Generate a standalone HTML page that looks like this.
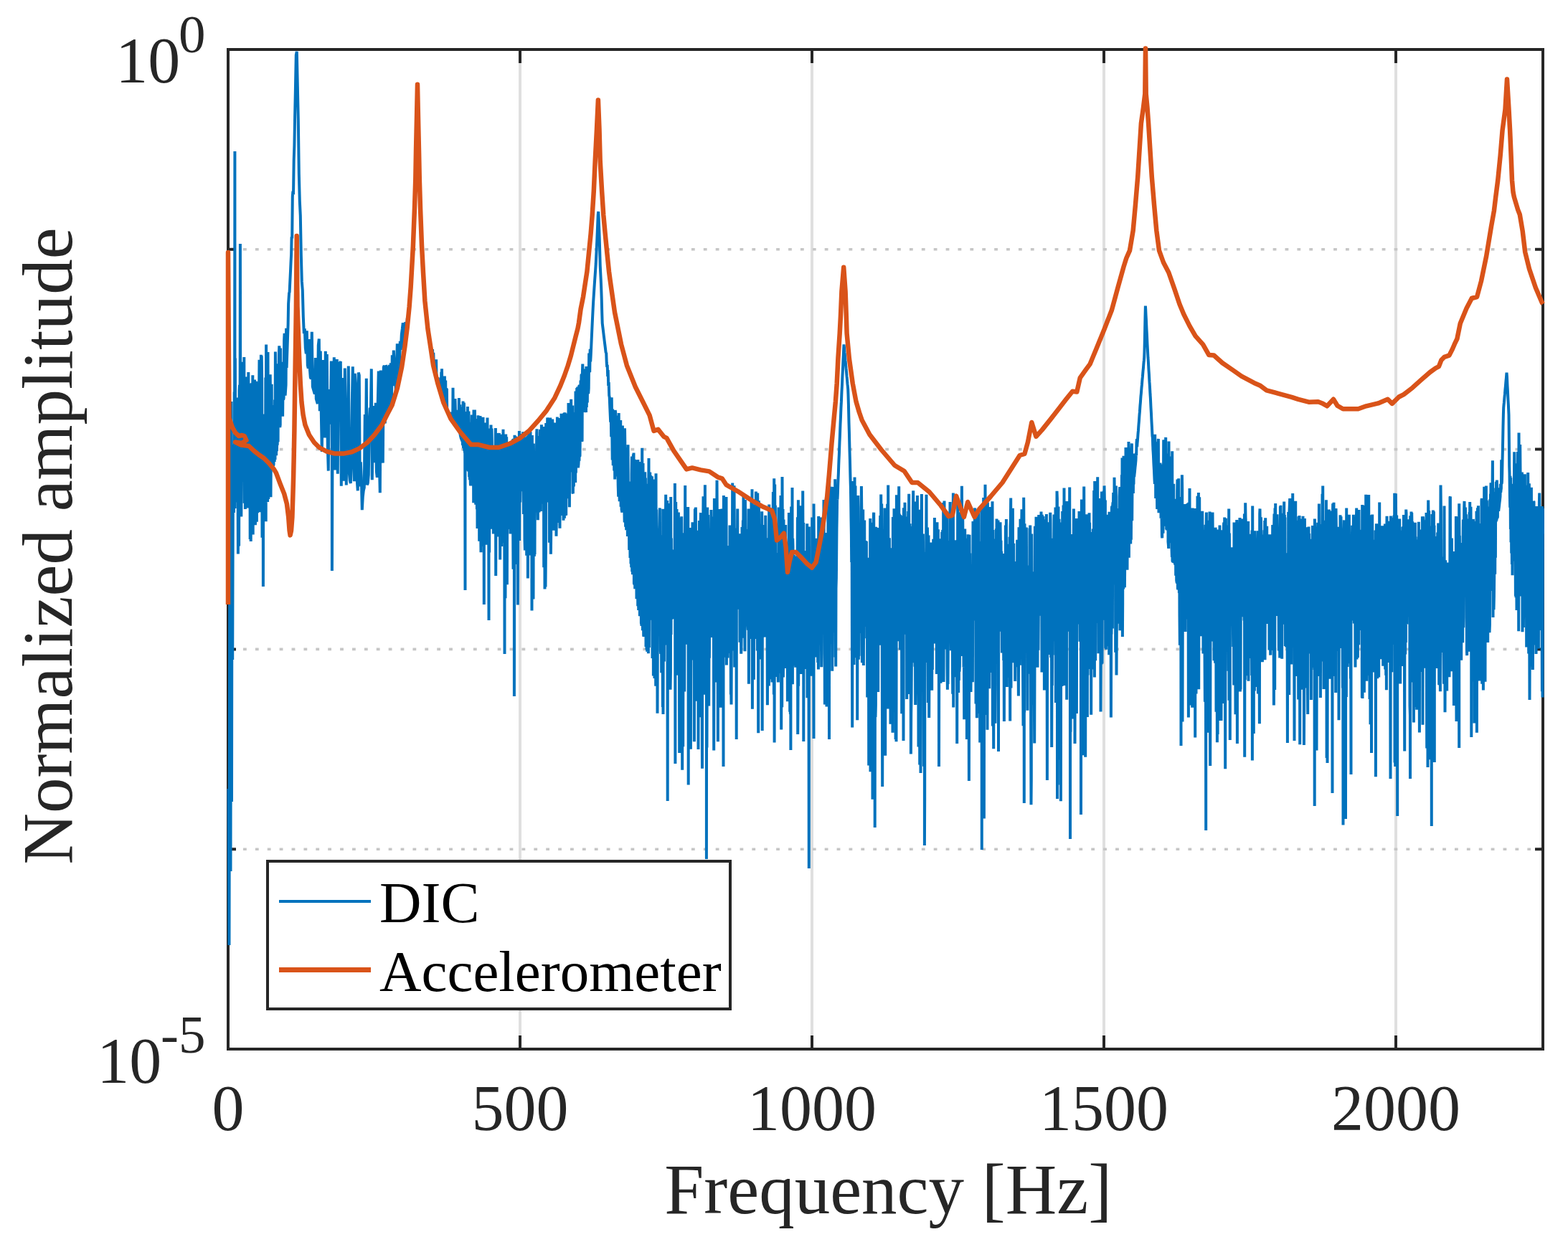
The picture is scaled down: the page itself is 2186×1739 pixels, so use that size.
<!DOCTYPE html>
<html><head><meta charset="utf-8"><title>Normalized amplitude vs Frequency</title>
<style>html,body{margin:0;padding:0;background:#fff;overflow:hidden}svg{display:block}</style></head>
<body>
<svg xmlns="http://www.w3.org/2000/svg" width="2186" height="1739" viewBox="0 0 2186 1739"><rect width="2186" height="1739" fill="#fff"/><line x1="725.0" y1="69" x2="725.0" y2="1463" stroke="#dfdfdf" stroke-width="4"/><line x1="1132.0" y1="69" x2="1132.0" y2="1463" stroke="#dfdfdf" stroke-width="4"/><line x1="1539.0" y1="69" x2="1539.0" y2="1463" stroke="#dfdfdf" stroke-width="4"/><line x1="1946.0" y1="69" x2="1946.0" y2="1463" stroke="#dfdfdf" stroke-width="4"/><line x1="322.1" y1="347.8" x2="2151" y2="347.8" stroke="#c6c6c6" stroke-width="3.6" stroke-dasharray="4.8 12.09"/><line x1="322.1" y1="626.6" x2="2151" y2="626.6" stroke="#c6c6c6" stroke-width="3.6" stroke-dasharray="4.8 12.09"/><line x1="322.1" y1="905.4" x2="2151" y2="905.4" stroke="#c6c6c6" stroke-width="3.6" stroke-dasharray="4.8 12.09"/><line x1="322.1" y1="1184.2" x2="2151" y2="1184.2" stroke="#c6c6c6" stroke-width="3.6" stroke-dasharray="4.8 12.09"/><path d="M725.0 1463V1444M725.0 69V88M1132.0 1463V1444M1132.0 69V88M1539.0 1463V1444M1539.0 69V88M1946.0 1463V1444M1946.0 69V88M318 347.8H329M2151 347.8H2140M318 626.6H329M2151 626.6H2140M318 905.4H329M2151 905.4H2140M318 1184.2H329M2151 1184.2H2140" stroke="#262626" stroke-width="4" fill="none"/><rect x="318" y="69" width="1833" height="1394" stroke="#262626" stroke-width="4" fill="none"/><polyline points="318.5,1100.0 319.5,1318.0 320.5,600.0 321.5,1215.0 322.3,560.0 323.0,1118.0 323.6,620.0 324.2,920.0 325.0,640.0 325.5,653.8 325.9,714.9 326.3,692.6 326.7,546.4 327.1,566.5 327.4,211.0 327.5,708.9 327.9,499.4 328.3,700.2 328.7,696.2 329.1,611.6 329.5,567.3 329.9,560.7 330.3,554.4 330.7,605.4 331.1,621.4 331.5,634.6 331.9,772.5 332.3,695.4 332.7,653.0 333.1,761.6 333.5,544.4 333.9,536.8 334.3,650.4 334.7,515.5 334.9,340.0 335.1,513.2 335.5,624.2 335.9,611.1 336.3,720.6 336.7,654.9 337.1,624.0 337.5,619.3 337.9,552.4 338.3,504.8 338.7,541.2 339.1,671.7 339.5,542.3 339.9,585.2 340.3,498.1 340.7,701.7 341.1,536.0 341.5,557.8 341.9,710.1 342.3,622.8 342.7,704.5 343.1,657.7 343.5,685.1 343.9,525.5 344.3,631.2 344.7,622.3 345.1,708.6 345.5,583.0 345.9,646.7 346.3,519.0 346.7,590.1 347.1,572.8 347.5,534.8 347.9,700.1 348.3,588.0 348.7,751.9 349.1,645.0 349.5,649.2 349.7,755.0 349.9,658.1 350.3,668.6 350.7,534.2 351.1,604.8 351.5,550.3 351.9,594.6 352.3,523.2 352.7,745.5 353.1,544.2 353.5,668.0 353.9,566.9 354.3,711.6 354.7,665.6 355.1,529.5 355.5,707.0 355.9,732.2 356.3,720.2 356.7,640.7 357.1,531.8 357.5,540.1 357.9,727.8 358.3,636.2 358.7,537.8 359.1,715.2 359.5,660.9 359.9,641.2 360.3,588.0 360.7,597.6 361.1,550.4 361.5,501.7 361.9,714.2 362.3,613.4 362.7,635.5 363.1,573.2 363.5,692.0 363.9,494.7 364.3,587.2 364.7,496.2 365.1,524.3 365.5,749.7 365.9,666.6 366.3,602.5 366.7,628.7 366.9,818.0 367.1,713.9 367.5,577.6 367.9,646.3 368.3,672.3 368.7,579.2 369.1,625.1 369.5,694.1 369.9,721.1 370.3,526.4 370.7,727.2 371.1,480.5 371.5,690.2 371.9,700.1 372.3,521.8 372.7,592.7 373.1,700.1 373.5,490.9 373.9,652.6 374.3,695.9 374.7,618.1 375.1,680.4 375.5,532.6 375.9,527.2 376.3,571.2 376.7,522.3 377.1,563.1 377.5,693.3 377.9,625.6 378.3,556.8 378.7,535.7 379.1,656.2 379.5,581.6 379.9,653.5 380.3,598.0 380.7,597.7 381.1,649.4 381.5,648.0 381.9,608.4 382.3,564.9 382.7,643.9 383.1,557.5 383.5,641.1 383.9,490.5 384.3,557.4 384.7,579.0 385.1,635.2 385.5,507.3 385.9,629.1 386.3,612.5 386.7,620.7 387.1,597.4 387.6,616.3 388.0,523.1 388.4,537.7 388.9,494.1 389.3,482.3 389.8,493.6 390.2,596.0 390.7,592.5 391.1,485.6 391.6,573.6 392.1,545.6 392.6,568.0 393.1,578.9 393.6,504.8 394.1,580.8 394.6,530.3 395.1,557.6 395.6,555.1 396.1,474.9 396.6,464.8 397.1,505.4 397.6,551.5 398.1,544.0 398.6,536.5 399.1,457.7 399.6,512.9 400.1,497.9 400.6,482.9 401.1,467.9 401.6,452.9 402.1,423.7 402.6,415.9 403.1,408.7 403.6,407.3 404.1,396.9 404.6,386.5 405.1,376.1 405.6,364.5 406.1,355.0 406.6,330.2 407.2,332.4 407.8,274.2 408.4,266.7 409.0,271.2 409.7,223.2 410.4,202.9 411.1,163.0 411.9,125.0 412.8,76.7 413.8,71.9 414.8,119.3 415.8,166.8 416.8,242.2 417.8,280.1 418.8,300.8 419.8,355.3 420.8,392.4 421.8,404.8 422.8,441.9 423.8,465.2 424.8,458.2 425.8,484.9 426.8,493.2 427.8,461.4 428.8,509.4 429.8,513.7 430.8,473.0 431.8,513.3 432.8,526.4 433.8,528.3 434.8,462.7 435.8,539.1 436.8,542.7 437.8,546.1 438.8,549.5 439.8,499.0 440.8,556.3 441.8,559.7 442.8,563.1 443.8,481.4 444.8,472.6 445.8,573.3 446.8,489.4 447.8,574.6 448.8,629.9 449.8,532.8 450.8,502.1 451.8,555.9 452.8,610.4 453.8,489.7 454.8,541.1 455.8,494.0 456.8,622.4 457.8,656.6 458.8,545.0 459.8,544.3 460.8,591.7 461.8,503.4 462.8,512.1 462.9,796.0 463.8,535.7 464.8,571.9 465.8,498.3 466.8,655.5 467.8,608.0 468.8,531.2 469.8,501.1 470.8,660.7 471.8,505.9 472.8,506.5 473.8,506.8 474.8,503.9 475.8,677.8 476.8,527.1 477.8,537.9 478.8,670.6 479.8,626.0 480.8,513.6 481.8,575.6 482.8,676.4 483.8,560.1 484.8,653.8 485.8,510.5 486.8,659.3 487.8,670.1 488.8,673.9 489.8,646.1 490.8,562.3 491.8,511.2 492.8,604.4 493.8,671.2 494.8,520.8 495.8,535.7 496.8,611.2 497.8,670.7 498.8,684.3 499.8,519.5 500.8,523.4 501.8,678.5 502.8,644.3 503.8,666.1 504.8,711.2 505.8,692.7 506.8,683.9 507.8,680.0 508.8,578.0 509.8,646.9 510.8,527.7 511.8,676.3 512.8,673.8 513.8,662.1 514.8,587.1 515.8,568.5 516.8,578.3 517.8,514.4 518.8,669.3 519.8,605.9 520.8,566.1 521.8,604.5 522.8,645.1 523.8,561.8 524.8,656.9 525.8,665.9 526.8,560.3 527.8,517.6 528.8,642.4 529.8,687.2 530.8,516.4 531.8,624.3 532.8,637.5 533.8,645.4 534.8,512.1 535.8,509.7 536.8,590.6 537.8,509.5 538.8,511.5 539.8,576.5 540.8,551.5 541.8,574.1 542.8,508.9 543.8,570.3 544.8,506.3 545.8,566.5 546.8,495.3 547.8,538.1 548.8,488.6 549.8,509.7 550.8,507.1 551.8,548.1 552.8,521.1 553.8,479.4 554.8,537.2 555.8,532.5 556.8,527.7 557.8,475.8 558.8,487.9 559.8,466.5 560.8,458.8 561.8,450.2 562.8,484.7 563.8,450.8 564.8,450.9 565.8,472.0 566.8,464.0 567.8,443.6 568.8,446.0 569.8,436.0 570.8,425.4 571.8,412.1 572.8,398.3 573.8,380.4 574.8,362.5 575.8,344.6 576.8,320.2 577.8,295.1 578.8,265.5 579.8,221.7 580.8,174.2 581.8,120.2 582.8,155.8 583.8,200.8 584.8,249.8 585.8,283.2 586.8,311.0 587.8,337.3 588.8,357.5 589.8,376.2 590.8,393.3 591.8,409.9 592.8,423.8 593.8,433.4 594.8,443.1 595.8,452.7 596.7,460.8 597.6,466.7 598.5,472.3 599.3,477.6 600.1,482.8 600.9,487.9 601.6,492.9 602.3,493.5 603.0,487.1 603.7,506.8 604.3,491.9 604.9,513.0 605.5,515.3 606.0,514.1 606.6,519.6 607.1,501.7 607.6,523.7 608.1,501.2 608.5,527.5 609.0,529.3 609.4,531.1 609.9,526.2 610.3,534.5 610.7,536.1 611.1,537.4 611.5,538.7 611.9,540.1 612.3,541.4 612.7,542.7 613.1,544.0 613.4,545.2 613.8,546.5 614.2,526.5 614.6,549.0 614.9,550.2 615.3,518.8 615.7,552.7 616.0,514.2 616.4,555.1 616.8,556.3 617.1,557.5 617.5,558.7 617.8,559.8 618.2,561.0 618.5,526.7 618.9,562.6 619.2,563.3 619.5,564.1 619.9,524.4 620.2,565.6 620.5,566.3 620.9,567.1 621.2,530.4 621.5,568.6 621.9,542.8 622.2,541.1 622.5,570.8 622.9,542.1 623.2,572.3 623.5,573.1 623.9,573.8 624.2,574.6 624.5,575.3 624.9,576.1 625.2,576.8 625.5,577.5 625.9,578.3 626.2,579.0 626.5,579.8 626.9,580.5 627.2,581.3 627.5,582.0 627.9,581.0 628.2,583.5 628.5,584.2 628.9,584.7 629.2,574.5 629.5,585.6 629.9,583.6 630.2,586.5 630.5,587.0 630.9,587.5 631.2,587.9 631.5,540.7 631.9,587.9 632.2,589.3 632.5,589.7 632.9,590.2 633.2,590.7 633.5,591.1 633.9,591.6 634.2,592.0 634.5,556.1 634.9,572.7 635.2,573.2 635.5,593.9 635.9,594.3 636.2,586.0 636.5,595.2 636.9,590.4 637.2,596.2 637.5,596.6 637.9,597.1 638.2,593.0 638.5,571.8 638.9,598.4 639.2,598.9 639.5,599.4 639.9,555.0 640.2,600.8 640.5,583.0 640.9,603.5 641.2,564.2 641.5,605.1 641.9,607.5 642.2,608.8 642.5,610.1 642.9,611.5 643.2,612.8 643.5,598.1 643.9,615.5 644.2,567.5 644.5,588.0 644.9,619.5 645.2,620.8 645.5,559.6 645.9,623.5 646.2,624.8 646.5,615.7 646.9,561.5 647.2,628.8 647.5,577.2 647.9,631.5 648.2,603.9 648.5,823.0 648.5,634.1 648.9,581.0 649.2,624.9 649.5,634.9 649.9,639.5 650.2,573.9 650.5,643.2 650.9,589.3 651.2,593.1 651.5,583.5 651.9,567.1 652.2,617.6 652.5,655.2 652.9,657.2 653.2,576.6 653.5,573.6 653.9,599.0 654.2,665.2 654.5,633.3 654.9,669.2 655.2,668.1 655.5,661.3 655.9,675.2 656.2,677.2 656.5,606.4 656.9,589.2 657.2,626.2 657.5,637.0 657.9,578.5 658.2,628.1 658.5,668.8 658.9,579.1 659.2,579.6 659.5,582.0 659.9,597.8 660.2,701.3 660.5,571.6 660.9,583.7 661.2,583.0 661.5,638.1 661.9,571.6 662.2,635.4 662.5,584.0 662.9,597.5 663.2,703.8 663.5,586.0 663.9,669.1 664.2,626.5 664.5,629.0 664.9,710.2 665.2,586.1 665.5,736.9 665.9,728.4 666.2,681.5 666.5,579.3 666.9,681.0 667.2,668.5 667.5,703.8 667.9,591.2 668.2,754.7 668.5,729.6 668.9,586.2 669.2,612.1 669.5,579.9 669.9,718.6 670.2,742.7 670.5,770.2 670.9,673.9 671.2,685.2 671.5,688.0 671.9,666.2 672.2,761.7 672.5,674.5 672.9,619.3 673.2,655.7 673.5,581.7 673.9,699.2 674.2,693.4 674.5,638.1 674.8,843.0 674.9,729.1 675.2,706.8 675.5,621.7 675.9,589.4 676.2,593.6 676.5,596.8 676.9,616.2 677.2,645.7 677.5,759.8 677.9,611.8 678.2,748.2 678.5,694.1 678.9,734.1 679.2,638.1 679.5,582.4 679.9,718.0 680.2,606.7 680.5,597.6 680.9,721.9 681.2,696.9 681.5,865.0 681.5,602.1 681.9,612.4 682.2,770.6 682.5,613.0 682.9,701.2 683.2,598.8 683.5,727.9 683.9,598.5 684.2,664.3 684.5,592.6 684.9,671.6 685.2,737.7 685.5,597.6 685.9,616.5 686.2,716.1 686.5,684.4 686.9,625.0 687.2,689.0 687.5,654.1 687.9,744.4 688.2,621.9 688.5,715.7 688.9,691.4 689.2,712.6 689.5,640.0 689.9,709.9 690.2,704.8 690.5,642.5 690.9,596.9 691.2,803.1 691.5,708.6 691.9,609.1 692.2,712.5 692.5,622.0 692.9,660.5 693.2,748.4 693.5,656.7 693.9,624.8 694.2,628.5 694.5,604.1 694.9,611.9 695.2,622.3 695.5,610.0 695.9,604.0 696.2,661.5 696.5,612.5 696.9,716.0 697.2,780.5 697.5,623.7 697.9,683.1 698.2,670.3 698.5,605.8 698.9,609.0 699.2,762.0 699.5,664.2 699.9,735.2 700.2,605.9 700.5,688.2 700.9,755.8 701.2,756.6 701.5,598.7 701.9,674.2 702.2,644.5 702.5,720.9 702.9,607.4 703.2,624.6 703.5,912.0 703.5,739.4 703.9,664.6 704.2,661.6 704.5,834.3 704.9,636.0 705.2,605.5 705.5,650.2 705.9,613.6 706.2,609.2 706.5,684.4 706.9,815.2 707.2,686.8 707.5,699.8 707.9,637.9 708.2,685.4 708.5,720.1 708.9,689.0 709.2,738.0 709.5,681.8 709.9,617.8 710.2,688.1 710.5,670.7 710.9,616.5 711.2,695.2 711.5,744.4 711.9,615.2 712.2,681.3 712.5,716.9 712.9,654.3 713.2,629.1 713.5,648.4 713.9,680.3 714.2,707.6 714.5,683.5 714.9,612.5 715.2,742.9 715.5,793.8 715.9,611.8 716.2,624.4 716.5,616.2 716.9,753.2 716.9,971.0 717.2,782.7 717.5,606.7 717.9,639.7 718.2,616.8 718.5,665.5 718.9,787.1 719.2,608.7 719.5,615.2 719.9,668.5 720.2,675.4 720.5,717.4 720.9,658.9 721.2,613.1 721.5,642.7 721.9,843.4 722.2,718.0 722.5,611.0 722.9,735.0 723.2,634.2 723.5,726.2 723.9,600.9 724.2,753.9 724.5,613.3 724.9,661.3 725.2,700.4 725.5,671.0 725.9,613.1 726.2,611.6 726.5,628.2 726.9,605.0 727.2,615.6 727.5,610.6 727.9,662.2 728.2,641.5 728.5,685.3 728.9,626.9 729.2,602.3 729.5,636.3 729.9,717.1 730.2,621.8 730.5,650.0 730.9,716.9 731.2,650.2 731.5,753.3 731.9,767.5 732.2,631.4 732.5,712.9 732.9,620.2 733.2,609.3 733.5,655.4 733.9,687.0 734.2,774.8 734.5,609.2 734.9,708.0 735.2,662.2 735.5,607.9 735.9,806.6 736.2,704.5 736.5,607.3 736.9,760.3 737.2,605.3 737.5,604.5 737.9,633.4 738.2,774.5 738.5,599.1 738.9,765.4 739.2,687.5 739.5,602.1 739.9,678.9 740.2,657.4 740.5,677.9 740.9,711.6 741.2,700.1 741.5,851.4 741.9,606.9 742.2,729.7 742.5,647.3 742.9,721.8 743.2,752.3 743.5,835.5 743.9,618.4 744.2,655.0 744.5,774.6 744.9,775.8 745.2,638.9 745.5,773.1 745.9,645.2 746.2,638.9 746.5,714.4 746.9,657.8 747.2,653.2 747.5,640.7 747.9,649.9 748.2,603.5 748.5,598.3 748.9,713.5 749.2,675.7 749.5,697.0 749.9,725.3 750.2,608.6 750.5,609.2 750.9,617.9 751.2,622.9 751.5,714.4 751.9,636.8 752.2,626.4 752.5,689.2 752.9,603.7 753.2,598.9 753.5,701.2 753.9,713.1 754.2,620.2 754.5,688.7 754.9,592.3 755.2,641.7 755.5,676.7 755.9,610.8 756.2,629.9 756.5,682.9 756.9,678.8 757.2,600.0 757.5,702.4 757.9,594.9 758.2,791.2 758.5,601.9 758.9,609.6 759.2,601.5 759.5,821.5 759.9,615.9 760.2,681.1 760.5,818.5 760.9,769.5 761.2,590.0 761.5,663.5 761.9,679.9 762.2,700.6 762.5,625.0 762.9,623.2 763.2,582.4 763.5,588.0 763.9,668.8 764.2,591.5 764.5,599.2 764.9,623.5 765.2,590.7 765.5,586.6 765.9,756.8 766.2,644.1 766.5,598.7 766.9,700.1 767.2,582.5 767.5,604.4 767.9,772.7 768.2,742.5 768.5,684.1 768.9,591.2 769.2,618.8 769.5,585.1 769.9,598.5 770.2,584.6 770.5,593.0 770.9,682.1 771.2,591.0 771.5,594.5 771.9,739.7 772.2,621.2 772.5,620.6 772.9,589.5 773.2,713.4 773.5,689.2 773.9,663.0 774.2,677.0 774.5,590.0 774.9,605.2 775.2,669.6 775.5,747.8 775.9,715.2 776.2,680.4 776.5,656.0 776.9,581.5 777.2,728.9 777.5,586.8 777.9,591.1 778.2,689.5 778.5,711.8 778.9,706.9 779.2,641.5 779.5,593.4 779.9,582.9 780.2,717.1 780.5,736.8 780.9,600.0 781.2,718.6 781.5,630.7 781.9,612.8 782.2,650.1 782.5,576.8 782.9,636.9 783.2,591.9 783.5,688.2 783.9,646.8 784.2,713.4 784.5,718.8 784.9,609.0 785.2,601.4 785.5,725.7 785.9,643.8 786.2,580.6 786.5,575.9 786.9,722.8 787.2,656.2 787.5,575.2 787.9,641.9 788.2,639.9 788.5,626.0 788.9,718.4 789.2,717.6 789.5,577.0 789.9,578.1 790.2,617.8 790.5,695.2 790.9,658.7 791.2,678.8 791.5,648.3 791.9,578.0 792.2,689.9 792.5,562.1 792.9,669.9 793.2,574.9 793.5,624.6 793.9,707.3 794.2,636.7 794.5,563.8 794.9,614.2 795.2,658.6 795.5,562.1 795.9,578.2 796.2,556.7 796.5,633.0 796.9,601.6 797.2,624.8 797.5,583.9 797.9,653.5 798.2,565.4 798.5,687.4 798.9,688.2 799.2,619.4 799.5,613.5 799.9,678.6 800.2,577.8 800.5,670.9 800.9,574.9 801.2,656.3 801.5,581.3 801.9,630.9 802.2,673.1 802.5,545.5 802.9,659.4 803.2,613.5 803.5,582.0 803.9,575.4 804.2,541.0 804.5,556.1 804.9,620.9 805.2,539.4 805.5,626.1 805.9,652.2 806.2,650.3 806.5,647.2 806.9,639.0 807.2,537.5 807.5,642.7 807.9,536.5 808.2,636.6 808.5,635.5 808.9,602.2 809.2,583.7 809.5,530.6 809.9,580.5 810.2,541.1 810.5,523.0 810.9,522.1 811.2,615.4 811.6,614.5 811.9,519.9 812.3,507.6 812.6,528.7 813.0,516.2 813.4,518.2 813.7,571.8 814.1,546.7 814.5,546.1 814.9,514.5 815.3,575.1 815.7,522.3 816.1,535.4 816.5,542.1 817.0,575.1 817.4,511.1 817.8,567.9 818.3,515.9 818.8,561.5 819.2,522.4 819.7,533.0 820.2,549.0 820.7,541.6 821.2,492.5 821.7,495.5 822.2,519.3 822.7,486.9 823.2,504.5 823.7,495.5 824.2,484.4 824.7,473.2 825.2,462.0 825.7,450.9 826.2,440.4 826.7,430.2 827.2,420.5 827.7,412.8 828.2,405.2 828.7,397.5 829.2,390.2 829.7,383.0 830.2,375.8 830.7,368.0 831.2,357.7 831.7,347.4 832.2,337.1 832.7,325.0 833.2,312.5 833.7,300.0 834.2,295.0 834.7,304.9 835.2,318.6 835.7,332.2 836.2,350.5 836.7,370.0 837.2,380.0 837.7,390.0 838.2,401.8 838.7,416.2 839.2,435.5 839.7,450.7 840.2,454.9 840.7,459.1 841.2,463.3 841.7,467.5 842.2,471.6 842.7,475.7 843.2,479.8 843.7,483.8 844.2,487.9 844.7,492.0 845.2,491.8 845.7,505.2 846.2,511.8 846.7,508.7 847.2,525.0 847.7,516.0 848.2,538.2 848.7,533.0 849.2,551.4 849.7,553.9 850.2,566.4 850.7,577.6 851.2,588.7 851.7,575.7 852.2,609.3 852.7,554.3 853.2,593.8 853.7,641.5 854.2,570.6 854.7,649.2 855.2,635.7 855.7,588.8 856.2,656.4 856.7,589.9 857.2,668.5 857.7,572.1 858.2,575.5 858.7,664.4 859.2,619.4 859.7,579.5 860.2,632.6 860.7,598.3 861.2,641.7 861.7,676.7 862.2,692.8 862.7,575.9 863.2,656.1 863.7,699.3 864.2,635.6 864.7,696.0 865.2,586.0 865.6,706.8 866.1,670.4 866.6,710.7 867.0,712.6 867.4,714.5 867.9,593.5 868.3,711.1 868.7,611.5 869.1,624.9 869.5,639.1 869.9,696.3 870.3,706.4 870.7,728.4 871.0,597.2 871.4,624.4 871.8,659.2 872.1,734.8 872.5,703.9 872.8,697.8 873.2,739.3 873.5,733.6 873.9,654.8 874.2,624.0 874.5,695.0 874.9,748.0 875.2,727.4 875.5,620.3 875.9,692.7 876.2,680.4 876.5,727.5 876.9,729.5 877.2,767.1 877.5,671.6 877.9,689.0 878.2,739.6 878.5,778.0 878.9,764.4 879.2,707.1 879.5,786.2 879.9,712.2 880.2,791.2 880.5,661.9 880.9,636.5 881.2,797.2 881.5,667.0 881.9,801.2 882.2,750.1 882.5,724.4 882.9,633.5 883.2,799.8 883.5,631.6 883.9,813.2 884.2,815.2 884.5,672.4 884.9,640.7 885.2,821.2 885.5,723.5 885.9,641.5 886.2,730.4 886.5,659.7 886.9,706.2 887.2,773.6 887.5,835.2 887.9,821.2 888.2,648.5 888.5,730.1 888.9,735.2 889.2,845.2 889.5,641.1 889.9,743.4 890.2,851.0 890.5,711.4 890.9,670.6 891.2,760.5 891.5,689.5 891.9,859.3 892.2,644.0 892.5,658.9 892.9,644.7 893.2,814.8 893.5,684.6 893.9,869.3 894.2,869.7 894.5,872.7 894.9,675.0 895.2,624.7 895.5,718.4 895.9,879.3 896.2,841.5 896.5,646.0 896.9,824.0 897.2,886.0 897.5,887.7 897.9,831.4 898.2,872.7 898.5,868.4 898.9,719.5 899.2,658.2 899.5,840.2 899.9,666.6 900.2,732.3 900.5,902.1 900.9,790.6 901.2,779.5 901.5,906.1 901.9,705.9 902.2,908.8 902.5,905.2 902.9,734.8 903.2,724.2 903.5,674.7 903.9,911.3 904.2,687.6 904.5,639.1 904.9,902.9 905.2,816.5 905.5,840.8 905.9,861.1 906.2,658.6 906.5,673.8 906.9,789.5 907.2,663.1 907.5,792.0 907.9,864.7 908.2,840.6 908.5,828.4 908.9,664.3 909.2,712.2 909.5,917.9 909.9,687.9 910.2,805.2 910.5,668.4 910.9,942.5 911.2,701.5 911.5,770.0 911.9,812.0 912.2,864.4 912.5,946.1 912.9,870.5 913.2,754.2 913.5,681.8 913.9,863.0 914.2,956.8 914.5,660.2 914.9,884.7 915.2,710.5 915.5,791.4 915.9,810.0 916.2,837.2 916.5,994.8 916.9,858.7 917.2,772.5 917.5,866.9 917.9,794.6 918.2,779.2 918.5,765.6 918.9,802.8 919.2,741.7 919.5,730.7 919.9,708.4 920.2,788.2 920.5,746.3 920.9,907.8 921.2,911.9 921.5,761.5 921.9,840.0 922.2,938.2 922.5,766.6 922.9,822.0 923.2,790.8 923.5,849.1 923.9,985.9 924.2,709.8 924.5,995.9 924.9,853.7 925.2,893.7 925.5,845.3 925.9,922.5 926.2,760.0 926.5,865.7 926.9,743.4 927.2,810.9 927.5,858.5 927.9,727.8 928.2,689.8 928.5,892.3 928.9,899.5 929.2,854.4 929.5,761.3 929.9,852.5 930.2,698.1 930.5,853.8 930.7,1117.0 930.9,830.7 931.2,841.8 931.5,796.4 931.9,737.4 932.2,870.9 932.5,801.5 932.9,876.1 933.2,775.4 933.5,701.9 933.9,822.8 934.2,844.0 934.5,961.7 934.9,937.0 935.2,693.0 935.5,885.1 935.9,750.6 936.2,863.8 936.5,781.4 936.9,766.6 937.2,809.8 937.5,820.8 937.9,863.3 938.2,848.7 938.5,859.2 938.9,783.0 939.2,859.1 939.5,773.1 939.9,841.1 940.2,802.8 940.5,829.7 940.9,674.0 941.2,813.2 941.4,1065.0 941.5,740.9 941.9,784.0 942.2,699.9 942.5,854.4 942.9,941.8 943.2,776.1 943.5,710.1 943.9,845.1 944.2,717.2 944.5,940.4 944.9,715.8 945.2,778.4 945.5,812.9 945.9,714.4 946.2,767.4 946.5,756.1 946.9,869.8 947.2,1050.0 947.5,779.0 947.9,894.8 948.2,721.9 948.5,835.5 948.9,797.4 949.2,760.0 949.5,907.9 949.9,878.9 950.2,720.2 950.5,761.3 950.9,907.1 951.2,1073.7 951.5,844.2 951.9,928.6 952.2,1041.3 952.5,877.8 952.9,853.0 953.2,743.3 953.5,782.0 953.9,847.7 954.2,964.4 954.5,764.4 954.9,788.7 955.2,677.1 955.5,867.0 955.9,801.4 956.2,898.7 956.5,747.1 956.9,857.6 957.2,861.1 957.5,807.1 957.9,735.7 958.2,791.2 958.5,880.0 958.9,736.0 959.2,706.9 959.5,807.0 959.7,1094.5 959.9,747.9 960.2,900.3 960.5,907.0 960.9,976.5 961.2,916.0 961.5,855.2 961.9,735.9 962.2,909.4 962.5,876.3 962.9,881.2 962.9,1044.8 963.2,868.5 963.5,912.3 963.9,765.0 964.2,862.2 964.5,822.0 964.9,775.5 965.2,772.7 965.5,728.3 965.9,815.5 966.2,783.7 966.5,797.4 966.9,920.6 967.2,864.7 967.5,864.4 967.9,1034.3 968.2,745.0 968.5,819.9 968.9,709.5 969.2,790.3 969.5,977.8 969.9,707.6 970.2,884.4 970.5,925.3 970.9,820.4 971.2,899.3 971.5,803.0 971.9,780.4 972.2,819.6 972.5,739.8 972.9,768.8 973.2,768.3 973.5,1045.1 973.9,776.0 974.2,748.8 974.5,968.6 974.9,726.0 975.2,1000.3 975.5,919.9 975.9,856.1 976.2,800.0 976.5,741.2 976.9,716.2 977.2,715.5 977.5,780.1 977.9,794.9 978.2,957.1 978.5,827.9 978.9,1049.5 979.0,1071.7 979.2,875.0 979.5,729.1 979.9,832.4 980.2,732.5 980.5,692.3 980.9,968.8 981.2,777.7 981.5,740.3 981.9,716.2 982.2,857.6 982.5,809.1 982.9,676.3 983.2,873.6 983.5,757.4 983.9,892.4 984.2,816.2 984.5,828.2 984.9,808.4 984.9,1198.0 985.2,863.7 985.5,1042.4 985.9,898.5 986.2,707.4 986.5,818.0 986.9,752.3 987.2,717.9 987.5,742.8 987.9,755.9 988.2,984.4 988.5,881.2 988.9,917.7 989.2,869.6 989.5,773.2 989.9,792.2 990.2,804.7 990.5,767.7 990.9,799.9 991.2,888.9 991.5,711.1 991.9,763.7 992.2,814.5 992.5,864.0 992.9,856.4 993.2,876.2 993.5,720.6 993.9,740.6 994.2,772.1 994.5,765.4 994.9,883.9 995.2,1046.6 995.5,865.8 995.9,694.9 996.2,769.4 996.5,899.6 996.9,951.5 997.2,843.7 997.5,782.2 997.9,783.8 998.2,853.4 998.5,920.1 998.9,780.2 999.2,743.2 999.5,669.8 999.9,730.8 1000.2,915.6 1000.5,851.1 1000.9,1034.3 1001.2,710.9 1001.5,786.5 1001.9,896.9 1002.2,860.3 1002.5,710.1 1002.9,795.4 1003.2,854.4 1003.5,866.9 1003.9,807.9 1004.2,742.7 1004.5,986.7 1004.9,811.6 1005.2,874.3 1005.5,828.7 1005.9,714.5 1006.2,754.2 1006.5,709.4 1006.9,743.3 1007.2,745.5 1007.5,798.7 1007.9,775.4 1008.2,785.6 1008.5,1069.0 1008.5,903.5 1008.9,691.1 1009.2,721.3 1009.5,900.5 1009.9,828.5 1010.2,804.7 1010.5,761.8 1010.9,830.6 1011.2,750.4 1011.5,916.6 1011.9,905.5 1012.2,775.5 1012.5,693.0 1012.9,927.6 1013.2,769.7 1013.5,859.2 1013.9,916.3 1014.2,897.2 1014.5,917.5 1014.9,817.3 1015.2,911.1 1015.5,810.3 1015.9,761.0 1016.2,815.2 1016.5,778.8 1016.9,887.2 1017.2,907.5 1017.5,732.5 1017.9,737.7 1018.2,790.9 1018.5,810.8 1018.9,968.4 1019.2,955.4 1019.5,982.5 1019.9,877.4 1020.2,864.3 1020.5,762.6 1020.9,788.2 1021.2,673.4 1021.5,907.5 1021.9,764.0 1022.2,715.4 1022.5,773.9 1022.9,775.7 1023.2,876.0 1023.5,677.3 1023.9,752.4 1024.2,930.5 1024.5,914.1 1024.9,852.2 1025.2,834.6 1025.5,750.4 1025.9,920.2 1026.2,885.2 1026.5,823.1 1026.7,1031.0 1026.9,736.6 1027.2,748.7 1027.5,789.5 1027.9,777.4 1028.2,709.5 1028.5,796.3 1028.9,806.9 1029.2,766.3 1029.5,790.7 1029.9,777.6 1030.2,788.8 1030.5,849.6 1030.9,819.0 1031.2,744.3 1031.5,895.7 1031.9,823.0 1032.2,809.2 1032.5,873.3 1032.9,883.0 1033.2,911.8 1033.5,900.4 1033.9,862.1 1034.2,875.2 1034.5,735.0 1034.9,869.7 1035.2,757.7 1035.5,758.5 1035.9,725.4 1036.2,793.5 1036.5,689.9 1036.9,859.0 1037.2,882.0 1037.5,889.6 1037.9,727.6 1038.2,855.0 1038.5,908.3 1038.9,696.9 1039.2,742.7 1039.5,760.8 1039.9,809.8 1040.2,737.9 1040.5,829.2 1040.9,779.9 1041.2,858.5 1041.5,827.2 1041.9,866.4 1042.2,755.2 1042.5,871.6 1042.9,878.6 1043.2,875.4 1043.5,709.6 1043.9,953.8 1044.2,838.7 1044.5,761.6 1044.9,802.5 1045.2,823.6 1045.5,823.7 1045.9,755.3 1046.2,759.6 1046.5,784.6 1046.9,891.1 1047.2,803.2 1047.5,696.9 1047.9,807.0 1048.2,743.8 1048.5,682.2 1048.9,988.8 1049.2,766.7 1049.5,828.5 1049.9,782.9 1050.2,703.2 1050.5,930.3 1050.9,947.7 1051.2,740.0 1051.5,797.9 1051.9,786.6 1052.2,735.5 1052.5,859.4 1052.9,890.8 1053.2,884.1 1053.5,862.7 1053.9,685.4 1054.2,749.9 1054.5,821.9 1054.9,869.5 1055.2,789.4 1055.5,805.2 1055.9,907.6 1056.2,687.6 1056.5,759.4 1056.9,764.8 1057.2,1022.3 1057.5,749.0 1057.9,698.3 1058.2,796.6 1058.5,855.4 1058.9,731.2 1059.2,906.9 1059.5,741.3 1059.9,868.9 1060.2,733.0 1060.5,919.6 1060.9,742.3 1061.2,875.5 1061.5,906.2 1061.9,755.4 1062.2,713.3 1062.5,838.7 1062.7,1019.0 1062.9,816.7 1063.2,811.7 1063.5,888.7 1063.9,807.5 1064.2,816.0 1064.5,813.5 1064.9,805.2 1065.2,792.9 1065.5,732.0 1065.9,765.1 1066.2,757.4 1066.5,753.1 1066.9,888.6 1067.2,718.7 1067.5,742.4 1067.9,822.8 1068.2,769.1 1068.5,750.9 1068.9,784.3 1069.2,816.5 1069.5,859.7 1069.9,983.2 1070.2,909.3 1070.5,798.3 1070.9,803.6 1071.2,794.6 1071.5,750.2 1071.9,956.5 1072.2,703.6 1072.5,741.7 1072.9,856.0 1073.2,837.8 1073.5,760.0 1073.9,947.2 1074.2,792.6 1074.5,839.3 1074.9,710.0 1075.2,922.8 1075.5,713.6 1075.9,788.5 1076.2,920.0 1076.5,951.4 1076.9,929.8 1077.2,900.9 1077.5,748.2 1077.9,685.9 1078.2,802.8 1078.5,700.9 1078.9,968.4 1079.2,667.2 1079.5,771.0 1079.6,1035.5 1079.9,740.4 1080.2,675.4 1080.5,814.5 1080.9,704.7 1081.2,928.1 1081.5,861.8 1081.9,782.0 1082.2,905.5 1082.5,891.5 1082.9,771.0 1083.2,907.3 1083.5,944.1 1083.9,844.7 1084.2,777.2 1084.5,928.7 1084.9,951.5 1085.2,776.0 1085.5,707.6 1085.9,913.9 1086.2,856.0 1086.5,746.8 1086.9,831.3 1087.2,766.0 1087.5,939.1 1087.9,774.5 1088.2,737.8 1088.5,691.0 1088.9,774.5 1089.2,1017.6 1089.5,743.0 1089.9,803.6 1090.2,986.3 1090.5,664.9 1090.9,762.3 1091.2,899.5 1091.5,710.1 1091.9,944.6 1092.2,903.8 1092.5,724.5 1092.9,837.5 1093.2,828.1 1093.5,863.2 1093.9,765.0 1094.2,784.6 1094.5,748.1 1094.9,761.1 1095.2,732.1 1095.5,931.9 1095.9,922.6 1096.2,778.3 1096.5,863.0 1096.9,811.4 1097.2,758.0 1097.5,775.5 1097.9,978.3 1098.2,773.4 1098.5,833.8 1098.9,954.8 1099.2,762.1 1099.5,895.8 1099.9,715.1 1100.2,873.2 1100.5,895.1 1100.9,905.1 1101.2,992.7 1101.5,867.5 1101.9,995.9 1102.2,757.0 1102.4,1046.0 1102.5,819.4 1102.9,741.1 1103.2,706.6 1103.5,798.9 1103.9,871.0 1104.2,887.5 1104.5,680.1 1104.9,954.2 1105.2,750.8 1105.5,762.5 1105.9,905.6 1106.2,928.5 1106.5,877.2 1106.9,773.8 1107.2,807.4 1107.5,907.2 1107.9,780.7 1108.2,898.5 1108.5,891.5 1108.9,809.9 1109.2,930.8 1109.5,788.7 1109.9,883.0 1110.2,854.9 1110.5,775.6 1110.9,827.5 1111.2,846.9 1111.5,829.2 1111.9,721.2 1112.2,1024.0 1112.5,980.8 1112.9,697.2 1113.2,956.7 1113.5,829.1 1113.9,726.9 1114.2,906.6 1114.5,804.3 1114.9,877.1 1115.2,909.2 1115.5,832.1 1115.9,705.3 1116.2,908.2 1116.5,872.9 1116.9,940.0 1117.2,763.8 1117.5,897.3 1117.9,922.9 1118.2,786.3 1118.5,800.6 1118.9,781.3 1119.2,684.6 1119.5,755.7 1119.9,781.3 1120.2,728.9 1120.3,1034.0 1120.5,891.6 1120.9,806.0 1121.2,841.7 1121.5,770.5 1121.9,789.7 1122.2,888.3 1122.5,817.5 1122.9,849.2 1123.2,806.0 1123.5,839.6 1123.9,932.9 1124.2,768.0 1124.5,830.5 1124.9,872.1 1125.2,730.3 1125.5,973.2 1125.9,825.9 1126.2,764.0 1126.5,890.1 1126.9,905.8 1127.2,858.5 1127.5,941.7 1127.8,1211.0 1127.9,734.5 1128.2,833.8 1128.5,885.9 1128.9,941.9 1129.2,861.2 1129.5,851.3 1129.9,799.0 1130.2,842.9 1130.5,838.3 1130.9,934.5 1131.2,906.6 1131.5,881.3 1131.9,942.8 1132.2,721.5 1132.5,888.4 1132.9,812.5 1133.2,882.7 1133.5,770.2 1133.9,811.8 1134.2,902.5 1134.5,1030.0 1134.5,702.5 1134.9,766.6 1135.2,814.9 1135.5,909.0 1135.9,759.6 1136.2,899.8 1136.5,752.0 1136.9,766.0 1137.2,828.3 1137.5,853.2 1137.9,915.8 1138.2,915.5 1138.5,750.8 1138.9,875.6 1139.2,847.5 1139.5,784.2 1139.9,883.7 1140.2,924.1 1140.5,807.0 1140.9,933.5 1141.2,719.9 1141.5,728.4 1141.9,879.4 1142.2,761.0 1142.5,832.8 1142.9,809.8 1143.2,722.5 1143.5,876.0 1143.9,872.5 1144.2,721.4 1144.5,746.7 1144.9,889.4 1145.2,930.3 1145.5,910.3 1145.9,808.8 1146.2,773.2 1146.5,793.4 1146.9,724.9 1147.2,806.2 1147.5,735.7 1147.9,721.0 1148.2,774.8 1148.5,697.1 1148.9,798.1 1149.2,858.2 1149.5,846.1 1149.9,982.4 1150.2,914.9 1150.5,840.6 1150.9,920.7 1151.2,788.3 1151.5,886.2 1151.9,743.1 1152.2,809.5 1152.5,985.5 1152.9,828.7 1153.2,802.5 1153.5,881.7 1153.9,746.5 1154.2,894.5 1154.5,671.7 1154.9,723.1 1155.2,709.5 1155.5,727.0 1155.9,941.4 1156.0,1031.0 1156.2,670.9 1156.5,736.8 1156.9,817.4 1157.2,855.1 1157.5,875.9 1157.9,759.1 1158.2,709.6 1158.5,898.3 1158.9,691.2 1159.2,678.8 1159.5,709.7 1159.9,788.9 1160.2,935.8 1160.5,861.0 1160.9,809.6 1161.2,795.9 1161.5,849.4 1161.9,828.1 1162.2,736.8 1162.5,679.0 1162.9,697.7 1163.2,877.3 1163.5,831.6 1163.9,881.9 1164.2,668.2 1164.5,916.4 1164.9,753.1 1165.2,929.5 1165.5,820.4 1165.9,805.8 1166.2,770.0 1166.5,736.6 1166.9,715.3 1167.2,693.5 1167.5,696.7 1167.9,687.3 1168.2,677.5 1168.5,668.7 1168.9,659.3 1169.2,650.0 1169.5,641.7 1169.9,633.3 1170.2,625.0 1170.5,616.7 1170.9,608.3 1171.2,600.0 1171.5,591.7 1171.9,583.3 1172.2,575.5 1172.5,568.1 1172.9,560.7 1173.2,553.3 1173.5,545.9 1173.9,538.5 1174.2,531.1 1174.5,523.7 1174.9,516.3 1175.2,508.9 1175.5,501.5 1175.9,494.1 1176.2,486.7 1176.5,480.4 1176.9,484.0 1177.2,487.7 1177.5,491.4 1177.9,495.1 1178.2,498.7 1178.5,502.4 1178.9,506.1 1179.2,509.8 1179.5,513.4 1179.9,517.1 1180.2,520.8 1180.5,524.4 1180.9,528.1 1181.2,531.8 1181.5,535.5 1181.9,539.1 1182.2,542.8 1182.5,550.2 1182.9,563.2 1183.2,576.1 1183.5,589.1 1183.9,602.1 1184.2,615.0 1184.5,628.0 1184.9,640.9 1185.2,653.9 1185.5,666.9 1185.9,679.8 1186.2,699.0 1186.5,722.4 1186.9,745.7 1187.2,784.1 1187.5,670.9 1187.9,880.7 1188.2,1014.5 1188.5,758.7 1188.9,878.4 1189.2,909.9 1189.5,855.4 1189.9,741.6 1190.2,846.9 1190.5,927.1 1190.9,694.6 1191.2,803.1 1191.5,665.4 1191.9,917.2 1192.2,895.9 1192.5,677.4 1192.9,885.7 1193.2,869.3 1193.5,704.7 1193.9,819.4 1194.2,868.9 1194.5,763.5 1194.9,814.0 1195.2,1004.2 1195.5,853.4 1195.9,814.4 1196.2,691.1 1196.5,708.3 1196.9,919.8 1197.2,885.0 1197.5,914.7 1197.9,838.0 1198.2,837.7 1198.5,825.0 1198.9,883.0 1199.2,769.3 1199.5,816.4 1199.9,809.2 1200.2,862.7 1200.5,739.3 1200.9,678.1 1201.2,704.7 1201.5,730.7 1201.9,924.2 1202.2,878.6 1202.5,887.9 1202.9,803.4 1203.2,710.4 1203.5,809.5 1203.9,928.1 1204.2,821.9 1204.5,855.8 1204.9,784.9 1205.2,725.5 1205.5,854.7 1205.9,815.8 1206.2,777.6 1206.5,753.9 1206.9,874.1 1207.2,770.5 1207.5,841.4 1207.9,754.8 1208.2,890.2 1208.5,786.7 1208.9,815.2 1209.2,972.6 1209.5,881.0 1209.9,886.0 1210.2,777.7 1210.5,925.4 1210.9,790.6 1211.2,1067.4 1211.5,954.0 1211.9,865.5 1212.2,923.0 1212.4,1030.0 1212.5,834.4 1212.9,885.9 1213.2,722.9 1213.5,1076.2 1213.9,910.8 1214.2,728.7 1214.5,753.4 1214.9,843.6 1215.2,895.0 1215.5,730.9 1215.9,1021.3 1216.2,782.1 1216.5,1114.7 1216.9,892.2 1217.2,820.2 1217.5,787.2 1217.9,717.1 1218.2,714.7 1218.5,859.5 1218.9,901.0 1219.2,973.3 1219.5,788.7 1219.7,1154.0 1219.9,998.7 1220.2,770.6 1220.5,1000.0 1220.9,982.6 1221.2,734.8 1221.5,941.8 1221.9,879.6 1222.2,879.2 1222.5,931.7 1222.9,834.7 1223.2,826.7 1223.5,789.3 1223.9,942.2 1224.2,965.0 1224.5,736.1 1224.9,899.7 1225.2,764.8 1225.5,741.6 1225.9,744.7 1226.2,844.2 1226.5,765.9 1226.9,755.9 1227.2,719.0 1227.5,777.9 1227.9,899.8 1228.2,689.4 1228.5,819.8 1228.9,851.7 1229.2,702.6 1229.5,769.6 1229.9,963.3 1230.2,1096.9 1230.5,931.1 1230.9,738.2 1231.2,894.9 1231.5,811.2 1231.9,738.5 1232.2,819.1 1232.5,972.0 1232.9,940.6 1233.2,795.4 1233.5,708.5 1233.9,955.1 1234.2,1053.8 1234.5,826.9 1234.9,751.4 1235.2,835.4 1235.5,875.6 1235.9,819.1 1236.2,784.9 1236.5,757.3 1236.9,770.2 1237.2,702.7 1237.5,759.2 1237.9,988.5 1238.2,676.5 1238.5,883.4 1238.9,902.7 1239.2,798.5 1239.5,848.5 1239.9,750.2 1240.2,867.5 1240.5,877.9 1240.9,884.9 1241.2,821.2 1241.5,1009.8 1241.9,929.6 1242.2,842.2 1242.5,870.9 1242.9,764.3 1243.2,971.9 1243.5,861.1 1243.9,941.8 1244.2,767.9 1244.5,1021.8 1244.9,721.0 1245.2,830.9 1245.5,722.5 1245.9,742.9 1246.2,892.0 1246.5,709.3 1246.9,792.3 1247.2,743.4 1247.5,920.2 1247.9,714.2 1248.2,780.3 1248.5,921.5 1248.6,1031.0 1248.9,871.2 1249.2,875.4 1249.5,1034.3 1249.9,690.2 1250.2,865.3 1250.5,886.1 1250.9,886.9 1251.2,878.1 1251.5,711.1 1251.9,714.6 1252.2,894.2 1252.5,851.6 1252.9,761.1 1253.2,678.2 1253.5,831.3 1253.9,716.6 1254.2,887.0 1254.5,781.3 1254.9,906.3 1255.2,718.1 1255.5,821.0 1255.9,719.3 1256.2,897.1 1256.5,838.1 1256.9,753.8 1257.2,995.2 1257.5,869.8 1257.9,780.2 1258.2,924.5 1258.5,791.5 1258.9,973.1 1259.2,770.0 1259.5,1033.1 1259.9,708.2 1260.2,883.4 1260.5,768.5 1260.9,802.9 1261.2,857.9 1261.5,700.8 1261.9,750.9 1262.2,720.6 1262.5,884.7 1262.9,750.3 1263.2,822.2 1263.5,778.1 1263.9,754.2 1264.2,974.9 1264.5,824.5 1264.9,861.6 1265.2,875.6 1265.5,914.6 1265.9,761.2 1266.2,713.0 1266.5,814.1 1266.9,738.3 1267.2,688.8 1267.5,967.9 1267.9,855.4 1268.2,800.4 1268.5,730.2 1268.9,890.5 1269.2,831.1 1269.5,739.3 1269.9,1051.6 1270.2,994.4 1270.5,976.5 1270.9,918.8 1271.2,830.8 1271.5,770.9 1271.9,861.9 1272.2,734.0 1272.5,852.9 1272.9,709.3 1273.2,684.2 1273.5,878.5 1273.9,781.8 1274.2,873.7 1274.5,899.0 1274.9,924.2 1275.2,852.6 1275.5,929.8 1275.9,863.8 1276.2,982.9 1276.5,959.1 1276.9,699.6 1277.2,762.4 1277.5,793.8 1277.9,758.3 1278.2,739.9 1278.5,943.9 1278.9,691.0 1279.2,741.1 1279.5,890.1 1279.9,750.9 1280.2,760.0 1280.5,1041.4 1280.9,891.3 1281.2,809.3 1281.5,730.3 1281.9,762.8 1282.2,1066.4 1282.5,904.6 1282.9,710.8 1283.2,876.2 1283.5,1078.0 1283.5,790.6 1283.9,879.6 1284.2,769.8 1284.5,728.8 1284.9,689.1 1285.2,769.9 1285.5,935.7 1285.9,953.2 1286.2,870.1 1286.5,886.9 1286.9,744.6 1287.2,785.2 1287.5,958.2 1287.9,1068.8 1288.2,808.1 1288.5,897.0 1288.9,982.9 1288.9,1179.0 1289.2,1113.1 1289.5,770.2 1289.9,862.7 1290.2,794.5 1290.5,813.9 1290.9,813.1 1291.2,765.8 1291.5,689.8 1291.9,892.8 1292.2,873.5 1292.5,923.9 1292.9,735.5 1293.2,755.3 1293.5,847.8 1293.9,979.9 1294.2,815.8 1294.5,746.6 1294.9,847.4 1295.2,1000.9 1295.5,933.8 1295.9,951.6 1296.2,800.1 1296.5,762.0 1296.9,934.1 1297.2,901.2 1297.5,926.2 1297.9,795.2 1298.2,768.2 1298.5,756.5 1298.9,933.0 1299.2,962.7 1299.5,789.1 1299.9,934.0 1300.2,792.8 1300.5,809.9 1300.9,840.3 1301.2,751.7 1301.5,763.6 1301.9,763.4 1302.2,761.8 1302.5,827.3 1302.9,721.9 1303.2,897.5 1303.5,741.3 1303.9,809.0 1304.2,859.7 1304.5,732.9 1304.9,800.1 1305.2,839.6 1305.5,836.3 1305.9,940.1 1306.2,898.8 1306.5,728.2 1306.9,915.6 1307.2,836.2 1307.5,869.1 1307.9,738.3 1308.2,816.3 1308.5,874.6 1308.9,902.7 1309.0,1069.0 1309.2,905.5 1309.5,751.3 1309.9,914.3 1310.2,841.0 1310.5,866.7 1310.9,920.5 1311.2,799.5 1311.5,952.7 1311.9,930.7 1312.2,905.9 1312.5,793.1 1312.9,830.9 1313.2,741.8 1313.5,889.8 1313.9,936.2 1314.2,739.1 1314.5,886.1 1314.9,873.2 1315.2,701.0 1315.5,951.1 1315.9,818.5 1316.2,765.1 1316.5,698.4 1316.9,897.3 1317.2,782.7 1317.5,827.3 1317.9,747.1 1318.2,851.1 1318.5,797.9 1318.9,905.5 1319.2,866.2 1319.5,880.3 1319.9,760.9 1320.2,713.5 1320.5,930.0 1320.9,961.8 1321.2,860.5 1321.5,953.9 1321.9,876.4 1322.2,850.9 1322.5,803.7 1322.9,787.6 1323.2,821.6 1323.5,754.0 1323.9,805.9 1324.2,826.2 1324.5,700.0 1324.9,797.4 1325.2,769.8 1325.5,858.2 1325.9,907.3 1326.2,853.2 1326.5,865.7 1326.9,853.1 1327.2,762.9 1327.5,793.2 1327.9,918.1 1328.2,967.7 1328.5,745.2 1328.9,687.4 1329.2,986.4 1329.5,923.2 1329.9,851.6 1330.2,909.0 1330.5,848.3 1330.9,944.2 1331.2,760.0 1331.5,810.5 1331.9,867.5 1332.2,753.3 1332.5,878.6 1332.9,764.9 1333.2,877.4 1333.5,904.7 1333.9,805.7 1334.2,1037.0 1334.5,857.7 1334.9,889.1 1335.2,696.8 1335.5,729.2 1335.9,877.8 1336.2,966.1 1336.5,857.0 1336.9,948.8 1337.2,714.3 1337.5,936.7 1337.9,929.1 1338.2,857.2 1338.5,807.3 1338.9,876.2 1339.2,760.9 1339.5,866.9 1339.9,873.6 1340.2,835.0 1340.5,765.0 1340.9,677.7 1341.2,749.7 1341.5,914.9 1341.9,753.3 1342.2,718.8 1342.5,761.6 1342.9,829.5 1343.2,846.2 1343.5,930.6 1343.9,922.9 1344.2,1003.2 1344.5,934.7 1344.9,812.2 1345.2,737.6 1345.5,985.1 1345.9,757.2 1346.2,854.8 1346.5,766.0 1346.9,909.9 1347.2,750.7 1347.5,804.7 1347.9,754.9 1347.9,1031.0 1348.2,926.5 1348.5,853.8 1348.9,856.6 1349.2,778.4 1349.5,745.2 1349.9,925.9 1350.2,890.1 1350.5,881.9 1350.9,1089.1 1351.2,838.7 1351.5,745.7 1351.9,851.0 1352.2,771.6 1352.5,827.1 1352.9,813.9 1353.2,839.5 1353.5,965.0 1353.9,908.1 1354.2,802.9 1354.5,911.1 1354.9,928.9 1355.2,893.2 1355.5,836.3 1355.9,951.2 1356.2,821.6 1356.5,726.9 1356.9,767.8 1357.2,862.1 1357.5,793.9 1357.9,804.6 1358.2,799.5 1358.5,748.6 1358.9,723.2 1359.2,708.4 1359.5,865.4 1359.9,780.4 1360.2,812.7 1360.5,981.4 1360.9,854.0 1361.2,909.0 1361.5,887.5 1361.9,1001.2 1362.2,715.1 1362.5,794.9 1362.9,994.9 1363.2,814.4 1363.5,994.2 1363.9,746.9 1364.2,713.1 1364.5,953.7 1364.9,801.3 1365.2,824.8 1365.5,987.1 1365.9,754.9 1366.2,1035.6 1366.5,797.7 1366.9,761.6 1367.2,758.3 1367.5,827.1 1367.9,814.6 1368.2,948.2 1368.5,708.3 1368.8,1185.0 1368.9,705.0 1369.2,739.3 1369.5,847.9 1369.9,895.5 1370.2,817.6 1370.5,849.8 1370.9,856.8 1371.2,693.9 1371.5,761.6 1371.9,1141.4 1372.2,782.0 1372.5,996.9 1372.9,820.8 1373.2,756.1 1373.5,675.7 1373.9,755.1 1374.2,780.0 1374.5,808.2 1374.9,810.2 1375.2,834.4 1375.5,816.7 1375.9,702.6 1376.2,767.3 1376.5,1017.7 1376.9,700.6 1377.2,878.8 1377.5,817.4 1377.9,872.4 1378.2,783.2 1378.5,792.2 1378.9,827.1 1379.2,960.3 1379.5,782.4 1379.9,723.9 1380.2,707.1 1380.5,938.1 1380.9,779.1 1381.2,733.7 1381.5,846.2 1381.9,921.1 1382.2,847.0 1382.5,742.3 1382.9,801.1 1383.2,768.2 1383.5,699.3 1383.9,1012.4 1384.2,813.9 1384.5,738.9 1384.9,937.5 1385.2,1044.3 1385.5,907.7 1385.9,765.6 1386.2,751.5 1386.5,829.7 1386.9,843.4 1387.2,931.9 1387.5,1008.8 1387.9,952.5 1388.2,786.7 1388.5,844.0 1388.9,737.3 1389.2,828.4 1389.5,723.5 1389.9,734.3 1390.2,737.2 1390.5,777.5 1390.9,779.5 1391.2,872.1 1391.5,725.6 1391.9,734.9 1392.0,1048.0 1392.2,860.8 1392.5,864.6 1392.9,873.4 1393.2,875.7 1393.5,862.3 1393.9,836.6 1394.2,880.7 1394.5,728.2 1394.9,757.5 1395.2,880.7 1395.5,753.8 1395.9,831.6 1396.2,768.7 1396.5,808.6 1396.9,910.4 1397.2,861.9 1397.5,811.9 1397.9,772.1 1398.2,900.1 1398.5,861.1 1398.9,810.8 1399.2,921.0 1399.5,869.4 1399.9,1005.9 1400.2,862.9 1400.5,935.4 1400.9,836.6 1401.2,873.6 1401.5,912.4 1401.9,732.5 1402.2,819.0 1402.5,849.6 1402.9,724.1 1403.2,895.3 1403.5,875.3 1403.9,958.1 1404.2,795.4 1404.5,818.0 1404.9,944.7 1405.2,804.6 1405.5,911.1 1405.9,807.0 1406.2,787.5 1406.5,773.4 1406.9,758.7 1407.2,809.4 1407.5,748.8 1407.9,909.7 1408.2,1005.5 1408.5,734.2 1408.9,723.0 1409.2,694.4 1409.5,959.6 1409.9,728.4 1410.2,868.0 1410.5,779.7 1410.9,755.8 1411.2,766.2 1411.5,870.4 1411.9,708.7 1412.2,924.3 1412.5,841.9 1412.9,763.7 1413.2,757.8 1413.5,862.4 1413.9,856.5 1414.2,783.1 1414.5,786.9 1414.9,817.5 1415.2,950.1 1415.5,835.2 1415.9,916.8 1416.2,859.5 1416.5,840.9 1416.9,823.8 1417.2,869.1 1417.5,824.3 1417.9,879.9 1418.2,752.7 1418.5,784.3 1418.9,930.3 1419.2,801.6 1419.5,919.3 1419.9,970.5 1420.2,845.2 1420.5,735.3 1420.9,887.7 1421.2,866.1 1421.5,776.9 1421.9,927.7 1422.2,822.6 1422.5,723.8 1422.9,727.0 1423.2,762.0 1423.5,853.1 1423.9,910.2 1424.2,734.6 1424.5,710.3 1424.9,856.3 1425.2,805.3 1425.5,813.0 1425.9,913.0 1426.2,962.3 1426.5,1012.3 1426.9,897.0 1427.2,693.8 1427.5,746.6 1427.8,1120.0 1427.9,848.2 1428.2,993.6 1428.5,730.3 1428.9,830.9 1429.2,802.4 1429.5,805.0 1429.9,771.7 1430.2,772.2 1430.5,764.3 1430.9,735.4 1431.2,840.3 1431.5,814.2 1431.9,878.6 1432.2,861.0 1432.5,990.8 1432.9,788.4 1433.2,939.7 1433.5,799.3 1433.9,866.0 1434.2,908.0 1434.5,802.0 1434.9,814.0 1435.2,858.8 1435.5,736.5 1435.9,834.6 1436.2,732.5 1436.5,760.1 1436.9,856.7 1437.2,1024.0 1437.5,1122.3 1437.8,1086.0 1437.9,768.6 1438.2,744.4 1438.5,831.2 1438.9,812.4 1439.2,797.3 1439.5,893.4 1439.9,877.7 1440.2,841.7 1440.5,856.2 1440.9,846.5 1441.2,869.7 1441.5,970.8 1441.9,983.7 1442.2,1036.6 1442.5,929.9 1442.9,733.8 1443.2,814.5 1443.5,898.6 1443.9,775.9 1444.2,852.4 1444.5,720.7 1444.9,754.4 1445.2,801.7 1445.5,724.9 1445.9,807.5 1446.2,759.8 1446.5,930.7 1446.9,781.5 1447.2,796.7 1447.5,906.8 1447.9,840.7 1448.2,718.1 1448.5,756.4 1448.9,853.2 1449.2,752.8 1449.5,763.7 1449.9,856.2 1450.2,824.4 1450.5,768.7 1450.9,840.4 1451.2,858.8 1451.5,713.4 1451.9,769.7 1452.2,778.0 1452.5,937.5 1452.9,717.8 1453.2,787.7 1453.5,751.2 1453.9,873.9 1454.2,910.5 1454.5,719.9 1454.9,931.3 1455.2,874.1 1455.5,755.2 1455.9,962.6 1456.2,773.8 1456.5,901.4 1456.9,724.2 1457.2,814.3 1457.5,826.6 1457.9,949.4 1458.2,920.6 1458.5,836.7 1458.9,716.9 1459.2,807.6 1459.5,793.9 1459.9,1088.0 1460.2,870.2 1460.5,801.2 1460.9,791.1 1461.2,893.1 1461.5,728.2 1461.9,913.1 1462.2,867.7 1462.5,808.6 1462.9,877.5 1463.2,799.1 1463.5,739.2 1463.9,803.8 1464.2,714.8 1464.5,725.0 1464.9,809.3 1465.2,917.0 1465.5,750.8 1465.9,824.7 1466.2,1041.9 1466.5,918.2 1466.9,956.0 1467.2,868.6 1467.5,846.9 1467.9,845.0 1468.2,849.9 1468.5,815.5 1468.9,789.1 1469.2,758.2 1469.5,717.4 1469.9,791.1 1470.2,894.2 1470.5,837.5 1470.9,741.6 1471.2,913.4 1471.5,707.4 1471.9,979.9 1472.2,862.5 1472.5,838.2 1472.9,801.8 1473.2,918.4 1473.5,684.7 1473.9,695.4 1474.0,1114.0 1474.2,829.0 1474.5,772.2 1474.9,798.7 1475.2,833.1 1475.5,706.5 1475.9,1059.5 1476.2,869.0 1476.5,723.8 1476.9,884.5 1477.2,832.0 1477.5,871.3 1477.9,884.3 1478.2,1094.4 1478.5,728.5 1478.9,1117.2 1479.2,817.5 1479.5,747.6 1479.9,791.0 1480.2,788.6 1480.5,956.9 1480.9,829.6 1481.2,713.1 1481.5,878.4 1481.9,822.7 1482.2,915.2 1482.5,704.5 1482.9,938.7 1483.2,956.0 1483.5,680.5 1483.9,817.1 1484.2,727.6 1484.5,830.6 1484.9,718.1 1485.2,952.1 1485.5,742.5 1485.9,866.3 1486.2,862.5 1486.5,776.6 1486.9,749.3 1487.2,975.8 1487.5,699.1 1487.9,759.2 1488.2,777.9 1488.5,844.5 1488.9,788.8 1489.2,723.0 1489.5,840.9 1489.9,880.7 1490.2,875.6 1490.5,819.7 1490.9,772.2 1491.2,679.5 1491.5,830.6 1491.9,855.3 1492.0,1170.0 1492.2,806.6 1492.5,1020.7 1492.9,744.9 1493.2,914.2 1493.5,878.1 1493.9,959.8 1494.2,979.4 1494.5,752.8 1494.9,976.4 1495.2,795.8 1495.5,867.2 1495.9,1002.6 1496.2,845.2 1496.5,841.9 1496.9,709.5 1497.2,845.2 1497.5,753.0 1497.9,791.0 1498.2,788.2 1498.5,1037.0 1498.9,855.4 1499.2,877.9 1499.5,736.2 1499.9,768.6 1500.2,937.4 1500.5,722.9 1500.9,995.1 1501.2,800.0 1501.5,790.2 1501.9,822.4 1502.2,803.8 1502.5,810.8 1502.9,798.6 1503.2,870.5 1503.5,760.1 1503.9,733.6 1504.2,800.9 1504.5,713.0 1504.9,804.0 1505.2,816.1 1505.5,894.7 1505.9,718.5 1506.2,790.5 1506.5,892.7 1506.9,775.0 1507.0,1136.0 1507.2,914.6 1507.5,873.4 1507.9,696.5 1508.2,786.8 1508.5,886.3 1508.9,823.2 1509.2,861.0 1509.5,1053.3 1509.9,861.4 1510.2,827.8 1510.5,915.9 1510.9,797.5 1511.2,678.5 1511.5,756.4 1511.9,839.9 1512.2,970.8 1512.5,842.9 1512.9,758.9 1513.2,1055.7 1513.5,788.9 1513.9,744.1 1514.2,828.2 1514.5,774.0 1514.9,717.2 1515.2,869.4 1515.5,863.7 1515.9,1000.0 1516.2,723.6 1516.5,941.6 1516.9,894.0 1517.2,749.5 1517.5,808.0 1517.9,847.0 1518.2,765.2 1518.5,715.3 1518.9,906.5 1519.2,728.8 1519.5,810.3 1519.9,796.5 1520.2,933.0 1520.5,827.6 1520.9,792.4 1521.2,996.7 1521.5,773.3 1521.9,870.5 1522.2,741.9 1522.5,878.3 1522.9,876.6 1523.2,900.9 1523.5,806.5 1523.9,737.5 1524.2,844.7 1524.5,933.4 1524.9,759.7 1525.2,684.0 1525.5,728.7 1525.9,944.6 1526.2,671.0 1526.5,696.8 1526.9,708.6 1527.2,921.2 1527.5,777.2 1527.9,858.7 1528.2,862.4 1528.5,790.0 1528.9,869.1 1529.2,796.8 1529.5,818.1 1529.9,755.2 1530.2,665.2 1530.5,831.3 1530.9,743.5 1531.2,745.8 1531.5,911.3 1531.9,768.5 1532.2,706.4 1532.5,840.2 1532.9,815.3 1533.2,695.0 1533.5,763.9 1533.9,834.3 1534.2,744.8 1534.5,992.5 1534.9,885.5 1535.2,804.7 1535.5,926.6 1535.9,685.4 1536.2,728.3 1536.5,925.4 1536.9,805.0 1537.2,717.4 1537.5,821.3 1537.9,864.7 1538.2,830.0 1538.5,688.2 1538.9,684.8 1539.2,775.8 1539.5,677.4 1539.9,697.9 1540.2,839.7 1540.5,783.5 1540.9,697.6 1541.2,903.8 1541.5,763.6 1541.9,905.8 1542.2,829.6 1542.5,832.6 1542.9,778.1 1543.2,846.4 1543.5,727.7 1543.9,731.3 1544.2,901.2 1544.5,717.7 1544.9,766.2 1545.2,865.4 1545.5,749.2 1545.9,758.4 1546.2,913.2 1546.5,713.7 1546.9,721.0 1547.2,901.0 1547.5,728.8 1547.9,743.5 1548.2,896.9 1548.5,739.1 1548.9,1000.4 1549.2,878.2 1549.5,884.5 1549.9,708.6 1550.2,705.6 1550.5,856.8 1550.9,876.5 1551.2,704.8 1551.5,700.3 1551.9,708.4 1552.2,687.1 1552.5,757.7 1552.9,780.4 1553.2,815.6 1553.5,665.7 1553.9,691.8 1554.2,677.5 1554.5,709.1 1554.9,688.0 1555.2,909.8 1555.5,736.5 1555.9,677.6 1556.2,820.3 1556.5,941.4 1556.9,855.9 1557.2,812.9 1557.5,733.0 1557.9,739.5 1558.2,709.0 1558.5,856.0 1558.9,854.5 1559.2,761.7 1559.5,869.8 1559.9,808.3 1560.2,816.9 1560.5,692.9 1560.9,684.0 1561.2,679.0 1561.5,879.2 1561.9,840.8 1562.2,868.6 1562.5,842.8 1562.9,836.3 1563.2,732.1 1563.5,822.6 1563.9,662.2 1564.2,788.9 1564.5,638.5 1564.9,887.9 1565.2,840.6 1565.5,658.1 1565.9,810.7 1566.2,821.5 1566.5,635.7 1566.9,752.5 1567.2,713.0 1567.5,763.2 1567.9,819.2 1568.2,786.8 1568.5,656.3 1568.9,740.9 1569.2,741.2 1569.5,624.0 1569.9,644.5 1570.2,687.1 1570.5,647.8 1570.9,655.2 1571.2,760.0 1571.5,794.8 1571.9,704.9 1572.2,748.0 1572.5,773.4 1572.9,751.1 1573.2,745.8 1573.5,616.0 1573.9,777.8 1574.2,637.8 1574.5,638.4 1574.9,704.9 1575.2,721.1 1575.5,757.6 1575.9,655.3 1576.2,758.4 1576.5,727.3 1576.9,752.9 1577.2,693.4 1577.5,626.8 1577.9,618.4 1578.2,726.2 1578.5,680.4 1578.9,682.9 1579.2,658.5 1579.5,633.5 1579.9,688.1 1580.2,642.8 1580.5,675.6 1580.9,632.5 1581.2,665.0 1581.5,661.7 1581.9,658.3 1582.2,655.0 1582.5,651.7 1582.9,648.3 1583.2,645.0 1583.5,641.7 1583.9,631.5 1584.2,635.0 1584.5,617.8 1584.9,612.1 1585.2,623.0 1585.5,618.6 1585.9,614.2 1586.2,609.8 1586.5,605.3 1586.9,600.9 1587.2,596.5 1587.5,592.1 1587.9,587.6 1588.2,583.2 1588.5,578.8 1588.9,574.4 1589.2,569.9 1589.5,565.5 1589.9,561.1 1590.2,556.6 1590.5,552.4 1590.9,548.6 1591.2,544.7 1591.5,540.8 1591.9,537.0 1592.2,533.1 1592.5,529.2 1592.9,525.4 1593.2,521.5 1593.5,517.6 1593.9,513.8 1594.2,509.9 1594.5,506.0 1594.9,502.2 1595.2,498.3 1595.5,489.7 1595.9,473.9 1596.2,458.1 1596.5,442.3 1596.9,426.6 1597.2,431.3 1597.5,438.3 1597.9,445.3 1598.2,452.3 1598.5,459.3 1598.9,466.2 1599.2,473.2 1599.5,480.2 1599.9,487.2 1600.2,493.4 1600.5,499.0 1600.9,504.6 1601.2,510.2 1601.5,515.8 1601.9,521.4 1602.2,527.1 1602.5,532.7 1602.9,538.3 1603.2,543.9 1603.5,549.5 1603.9,555.3 1604.2,561.9 1604.5,568.5 1604.9,575.1 1605.2,581.6 1605.5,588.2 1605.9,594.8 1606.2,601.4 1606.5,608.0 1606.9,610.8 1607.2,621.1 1607.5,627.7 1607.9,634.4 1608.2,641.1 1608.5,647.9 1608.9,654.6 1609.2,661.4 1609.5,668.2 1609.9,674.9 1610.2,605.8 1610.5,665.9 1610.9,616.2 1611.2,695.1 1611.5,620.0 1611.9,691.2 1612.2,634.4 1612.5,679.7 1612.9,684.2 1613.2,710.0 1613.5,706.2 1613.9,651.0 1614.2,688.0 1614.5,617.5 1614.9,611.9 1615.2,693.7 1615.5,715.3 1615.9,700.3 1616.2,666.4 1616.5,684.3 1616.9,700.4 1617.2,676.6 1617.5,645.5 1617.9,715.2 1618.2,647.6 1618.5,722.8 1618.9,713.6 1619.2,714.0 1619.5,718.2 1619.9,747.0 1620.2,750.4 1620.5,672.9 1620.9,653.4 1621.2,712.1 1621.5,743.8 1621.9,696.9 1622.2,613.4 1622.5,615.5 1622.9,671.4 1623.2,724.2 1623.5,733.8 1623.9,658.2 1624.2,683.0 1624.5,683.0 1624.9,624.1 1625.2,609.9 1625.5,686.9 1625.9,684.2 1626.2,738.5 1626.5,632.8 1626.9,739.4 1627.2,645.4 1627.5,693.9 1627.9,724.8 1628.2,632.5 1628.5,755.6 1628.9,759.8 1629.2,765.0 1629.5,615.4 1629.9,718.1 1630.2,725.0 1630.5,755.2 1630.9,642.7 1631.2,638.1 1631.5,757.3 1631.9,656.8 1632.2,636.6 1632.5,640.5 1632.9,738.9 1633.2,719.0 1633.5,764.7 1633.9,776.9 1634.2,629.3 1634.5,782.5 1634.9,782.9 1635.2,783.3 1635.5,783.8 1635.9,702.9 1636.2,674.8 1636.5,785.2 1636.9,716.6 1637.2,733.8 1637.5,783.9 1637.9,784.0 1638.2,787.6 1638.5,773.8 1638.9,749.0 1639.2,802.7 1639.5,726.1 1639.9,695.8 1640.2,809.2 1640.5,811.4 1640.9,813.2 1641.2,685.7 1641.5,668.5 1641.9,820.2 1642.2,822.3 1642.5,711.3 1642.9,805.2 1643.2,667.3 1643.5,746.0 1643.9,827.0 1644.2,738.7 1644.5,857.8 1644.9,899.7 1645.2,692.9 1645.5,825.8 1645.9,745.5 1646.2,699.5 1646.5,1040.0 1646.5,739.7 1646.9,774.7 1647.2,895.3 1647.5,849.8 1647.9,662.2 1648.2,682.6 1648.5,1006.5 1648.9,797.6 1649.2,812.1 1649.5,745.9 1649.9,875.7 1650.2,800.1 1650.5,809.9 1650.9,721.5 1651.2,860.0 1651.5,714.2 1651.9,702.9 1652.2,814.1 1652.5,881.1 1652.9,736.4 1653.2,739.3 1653.5,707.4 1653.9,818.5 1654.2,863.4 1654.5,704.5 1654.9,802.7 1655.2,804.4 1655.5,702.0 1655.9,803.2 1656.2,736.7 1656.5,720.4 1656.9,1000.5 1657.2,700.8 1657.5,757.6 1657.9,829.6 1658.2,774.7 1658.5,681.0 1658.9,905.0 1659.2,733.6 1659.5,779.0 1659.9,928.8 1660.2,983.6 1660.5,933.5 1660.9,780.0 1661.2,866.5 1661.5,902.2 1661.9,726.9 1662.2,986.7 1662.5,708.4 1662.9,844.9 1663.2,736.5 1663.5,730.9 1663.9,717.2 1664.2,954.5 1664.5,715.6 1664.9,936.8 1665.2,723.1 1665.5,761.1 1665.9,731.4 1666.2,1028.5 1666.5,708.9 1666.9,911.2 1667.2,754.5 1667.5,967.5 1667.9,871.4 1668.2,745.5 1668.5,809.4 1668.9,724.3 1669.2,783.1 1669.5,691.7 1669.9,854.6 1670.2,831.9 1670.5,748.7 1670.9,687.0 1671.2,961.3 1671.5,718.8 1671.9,763.9 1672.2,693.2 1672.5,778.6 1672.9,783.5 1673.2,817.9 1673.5,763.6 1673.9,744.6 1674.2,887.3 1674.5,752.5 1674.9,766.5 1675.2,807.9 1675.5,751.7 1675.9,869.3 1676.2,712.7 1676.5,765.0 1676.9,790.5 1677.2,748.5 1677.5,911.4 1677.9,773.7 1678.2,791.1 1678.5,803.8 1678.9,908.4 1679.2,739.4 1679.5,908.3 1679.9,978.7 1680.2,752.0 1680.5,731.8 1680.9,892.1 1681.2,1158.0 1681.2,764.4 1681.5,742.3 1681.9,714.5 1682.2,842.6 1682.5,968.8 1682.9,930.0 1683.2,836.4 1683.5,797.6 1683.9,1021.8 1684.2,855.2 1684.5,986.6 1684.9,862.6 1685.2,864.9 1685.5,866.1 1685.9,725.7 1686.2,750.0 1686.5,713.6 1686.9,962.6 1687.2,1067.9 1687.5,841.7 1687.9,731.8 1688.2,726.1 1688.5,800.8 1688.9,786.5 1689.2,738.4 1689.5,719.5 1689.9,853.3 1690.2,894.5 1690.5,714.6 1690.9,765.9 1691.2,763.7 1691.5,826.4 1691.9,842.7 1692.2,792.4 1692.5,921.2 1692.9,787.5 1693.2,764.9 1693.5,885.8 1693.9,912.4 1694.2,924.8 1694.5,735.8 1694.9,740.2 1695.2,806.7 1695.5,992.8 1695.9,847.8 1696.2,848.6 1696.5,771.8 1696.9,1035.2 1697.2,738.6 1697.5,832.3 1697.6,1024.0 1697.9,862.4 1698.2,901.2 1698.5,902.4 1698.9,787.9 1699.2,758.0 1699.5,1005.1 1699.9,831.3 1700.2,761.1 1700.5,732.6 1700.9,899.0 1701.2,913.8 1701.5,835.8 1701.9,787.7 1702.2,859.1 1702.5,1004.9 1702.9,838.0 1703.2,893.8 1703.5,925.1 1703.9,884.2 1704.2,814.4 1704.5,739.3 1704.9,868.6 1705.2,908.2 1705.5,980.9 1705.9,735.5 1706.2,728.6 1706.5,853.1 1706.9,906.8 1707.2,721.6 1707.5,847.4 1707.9,757.9 1708.2,1072.3 1708.5,782.4 1708.9,722.8 1709.2,892.4 1709.5,766.9 1709.9,797.4 1710.2,732.4 1710.5,774.8 1710.9,733.0 1711.2,756.0 1711.5,838.5 1711.9,766.7 1712.2,861.3 1712.5,935.8 1712.9,837.9 1713.2,709.6 1713.5,976.7 1713.9,743.4 1714.2,779.1 1714.5,825.3 1714.8,1032.0 1714.9,848.9 1715.2,778.1 1715.5,803.3 1715.9,851.0 1716.2,807.6 1716.5,763.3 1716.9,795.8 1717.2,789.2 1717.5,765.6 1717.9,844.4 1718.2,821.8 1718.5,796.2 1718.9,872.1 1719.2,902.1 1719.5,856.7 1719.9,778.3 1720.2,955.6 1720.5,728.6 1720.9,899.8 1721.2,798.8 1721.5,792.6 1721.9,912.0 1722.2,858.4 1722.5,996.3 1722.9,923.4 1723.2,731.2 1723.5,819.8 1723.9,887.5 1724.2,724.9 1724.5,829.8 1724.9,1037.1 1725.2,753.0 1725.5,731.6 1725.9,765.8 1726.2,779.8 1726.5,765.0 1726.9,802.0 1727.2,908.9 1727.5,823.6 1727.9,841.8 1728.2,730.5 1728.5,722.0 1728.9,964.4 1729.2,780.7 1729.5,961.5 1729.9,777.9 1730.2,854.6 1730.5,860.2 1730.9,727.1 1731.2,723.5 1731.5,804.8 1731.9,734.4 1732.2,768.1 1732.5,745.4 1732.9,772.5 1733.2,808.5 1733.5,772.2 1733.9,778.3 1734.2,816.1 1734.5,865.6 1734.9,716.4 1735.2,1055.7 1735.5,802.4 1735.9,948.0 1736.2,701.2 1736.5,721.3 1736.9,729.6 1737.2,942.2 1737.5,797.8 1737.9,913.1 1738.2,868.6 1738.5,727.7 1738.9,785.3 1739.2,777.8 1739.5,808.2 1739.9,883.5 1740.2,727.0 1740.5,949.8 1740.9,814.1 1741.2,786.3 1741.5,869.4 1741.9,763.8 1742.2,873.1 1742.5,798.7 1742.9,814.3 1743.2,744.7 1743.5,746.8 1743.9,918.0 1744.2,838.8 1744.5,800.1 1744.9,889.9 1745.2,941.9 1745.5,739.5 1745.9,1060.5 1746.2,705.4 1746.5,848.2 1746.9,759.9 1747.2,756.9 1747.5,818.0 1747.8,1023.0 1747.9,845.7 1748.2,803.4 1748.5,873.4 1748.9,963.4 1749.2,740.3 1749.5,752.9 1749.9,846.9 1750.2,796.5 1750.5,772.4 1750.9,820.3 1751.2,869.0 1751.5,940.0 1751.9,957.9 1752.2,904.3 1752.5,780.1 1752.9,926.2 1753.2,872.3 1753.5,740.3 1753.9,967.5 1754.2,754.6 1754.5,865.2 1754.9,868.3 1755.2,939.6 1755.5,861.2 1755.9,1009.2 1756.2,717.0 1756.5,709.4 1756.9,743.1 1757.2,837.8 1757.5,799.2 1757.9,721.3 1758.2,743.9 1758.5,838.8 1758.9,793.5 1759.2,886.1 1759.5,810.0 1759.9,923.3 1760.2,884.7 1760.5,816.9 1760.9,781.9 1761.2,745.4 1761.5,764.9 1761.9,781.0 1762.2,782.6 1762.5,739.2 1762.9,811.3 1763.2,726.1 1763.5,920.3 1763.9,831.0 1764.2,722.2 1764.5,773.7 1764.9,754.9 1765.2,734.7 1765.5,813.0 1765.9,739.3 1766.2,733.7 1766.5,870.1 1766.9,799.7 1767.2,862.3 1767.5,810.0 1767.9,818.8 1768.2,768.8 1768.5,798.6 1768.9,812.7 1769.2,776.8 1769.5,906.5 1769.9,751.8 1770.2,745.2 1770.5,777.3 1770.9,893.2 1771.2,913.6 1771.5,834.5 1771.9,781.6 1772.2,856.2 1772.5,906.9 1772.9,751.2 1773.2,861.1 1773.5,872.0 1773.9,789.4 1774.2,732.0 1774.5,845.6 1774.9,743.7 1775.2,783.8 1775.5,829.4 1775.9,983.6 1776.2,732.6 1776.5,716.5 1776.9,827.9 1777.2,961.9 1777.5,708.6 1777.9,854.6 1778.2,701.9 1778.5,831.2 1778.9,727.0 1779.2,859.0 1779.5,782.3 1779.9,857.9 1780.2,755.9 1780.5,717.3 1780.9,739.3 1781.2,760.0 1781.5,736.4 1781.9,742.4 1782.2,829.5 1782.5,802.2 1782.9,907.6 1783.2,817.6 1783.5,828.4 1783.9,872.2 1784.2,917.6 1784.5,840.0 1784.9,706.2 1785.2,807.9 1785.5,704.7 1785.9,845.2 1786.2,715.8 1786.5,828.5 1786.9,734.4 1787.2,918.8 1787.5,722.5 1787.9,859.3 1788.2,870.6 1788.5,761.0 1788.9,842.2 1789.2,775.0 1789.5,756.9 1789.9,757.1 1790.2,699.6 1790.5,862.8 1790.9,717.9 1791.2,743.1 1791.5,721.4 1791.9,901.0 1792.2,826.2 1792.5,810.4 1792.9,839.9 1793.2,902.6 1793.5,850.4 1793.9,822.1 1794.2,771.2 1794.5,823.0 1794.9,1036.1 1795.2,836.6 1795.5,813.0 1795.9,934.4 1796.2,714.1 1796.5,716.8 1796.9,895.9 1797.2,968.9 1797.5,713.0 1797.9,703.6 1798.2,695.0 1798.5,838.5 1798.9,733.5 1799.2,834.6 1799.5,860.6 1799.9,700.9 1800.2,926.4 1800.5,756.3 1800.9,832.8 1801.2,782.0 1801.5,779.3 1801.9,794.6 1802.2,688.1 1802.5,801.1 1802.9,759.5 1803.2,783.0 1803.5,737.9 1803.9,777.2 1804.2,870.1 1804.5,1033.1 1804.9,743.9 1805.2,926.7 1805.5,848.7 1805.9,724.8 1806.2,698.7 1806.5,935.0 1806.9,751.6 1807.2,725.8 1807.5,859.3 1807.9,872.3 1808.2,943.0 1808.5,819.7 1808.9,771.5 1809.2,773.1 1809.5,745.2 1809.9,854.3 1810.2,975.6 1810.5,720.3 1810.9,790.7 1811.2,781.8 1811.5,719.1 1811.9,844.1 1812.2,1038.3 1812.5,762.5 1812.9,878.2 1813.2,948.7 1813.5,761.0 1813.9,961.7 1814.2,883.8 1814.5,857.4 1814.9,743.1 1815.2,762.8 1815.5,723.6 1815.9,946.5 1816.2,906.9 1816.5,719.8 1816.9,828.1 1817.2,746.7 1817.5,889.5 1817.9,839.1 1817.9,1039.0 1818.2,982.2 1818.5,878.8 1818.9,722.9 1819.2,787.4 1819.5,840.0 1819.9,959.5 1820.2,787.0 1820.5,741.8 1820.9,764.4 1821.2,755.3 1821.5,735.2 1821.9,780.1 1822.2,755.5 1822.5,823.2 1822.9,948.2 1823.2,996.1 1823.5,736.0 1823.9,838.6 1824.2,865.7 1824.5,734.6 1824.9,828.9 1825.2,744.0 1825.5,785.4 1825.9,775.0 1826.2,911.6 1826.5,751.7 1826.9,831.2 1827.2,843.1 1827.5,776.6 1827.9,976.0 1828.2,777.2 1828.5,775.6 1828.9,871.1 1829.2,817.7 1829.5,879.5 1829.9,734.3 1830.2,733.3 1830.5,882.6 1830.9,792.0 1831.2,931.0 1831.5,751.5 1831.9,753.3 1832.2,934.0 1832.5,785.0 1832.7,1124.0 1832.9,723.5 1833.2,748.1 1833.5,893.4 1833.9,759.9 1834.2,835.8 1834.5,922.1 1834.9,850.2 1835.2,887.5 1835.5,1046.4 1835.9,768.8 1836.2,941.0 1836.5,834.8 1836.9,744.1 1837.2,728.9 1837.5,776.3 1837.9,730.4 1838.2,895.0 1838.5,836.6 1838.9,702.4 1839.2,943.0 1839.5,846.8 1839.9,806.6 1840.2,731.1 1840.5,813.7 1840.9,972.9 1841.2,843.9 1841.5,811.0 1841.9,850.1 1842.2,835.0 1842.5,854.2 1842.9,744.0 1843.2,733.6 1843.5,688.7 1843.9,922.5 1844.2,677.6 1844.5,758.1 1844.9,844.3 1845.2,821.9 1845.5,961.0 1845.9,747.4 1846.2,725.9 1846.5,736.8 1846.9,821.5 1847.2,767.6 1847.5,810.5 1847.9,871.2 1848.2,775.5 1848.5,865.3 1848.9,697.2 1849.2,834.3 1849.5,966.0 1849.6,1057.0 1849.9,986.9 1850.2,841.0 1850.5,1064.0 1850.9,753.5 1851.2,769.7 1851.5,808.9 1851.9,824.7 1852.2,917.2 1852.5,808.8 1852.9,710.6 1853.2,874.4 1853.5,750.5 1853.9,946.7 1854.2,748.4 1854.5,769.6 1854.9,734.5 1855.2,771.4 1855.5,848.8 1855.9,762.4 1856.2,712.6 1856.5,845.0 1856.9,883.5 1857.2,728.6 1857.5,1106.0 1857.5,803.2 1857.9,719.5 1858.2,702.2 1858.5,790.4 1858.9,767.7 1859.2,943.1 1859.5,700.8 1859.9,860.7 1860.2,883.2 1860.5,801.5 1860.9,823.2 1861.2,757.8 1861.5,759.2 1861.9,717.1 1862.2,965.9 1862.5,709.1 1862.9,736.8 1863.2,880.8 1863.5,812.2 1863.9,826.2 1864.2,770.4 1864.5,741.4 1864.9,908.1 1865.2,734.7 1865.5,770.9 1865.9,887.9 1866.2,771.5 1866.5,1004.2 1866.9,744.3 1867.2,830.4 1867.5,833.1 1867.9,823.5 1868.2,896.7 1868.5,718.3 1868.9,835.2 1869.2,903.9 1869.5,720.3 1869.9,835.4 1870.2,808.4 1870.5,799.1 1870.9,833.1 1871.2,855.3 1871.5,875.4 1871.9,959.4 1872.2,863.3 1872.5,1150.5 1872.9,865.3 1873.2,764.5 1873.5,740.5 1873.9,725.4 1874.2,764.3 1874.5,735.1 1874.9,869.7 1875.2,871.2 1875.5,851.5 1875.9,793.3 1876.0,1142.0 1876.2,813.9 1876.5,762.0 1876.9,971.9 1877.2,708.6 1877.5,777.5 1877.9,841.3 1878.2,745.7 1878.5,930.1 1878.9,817.8 1879.2,790.1 1879.5,723.3 1879.9,767.4 1880.2,845.3 1880.5,767.4 1880.9,717.7 1881.2,842.6 1881.5,773.1 1881.9,925.2 1882.2,870.8 1882.5,878.2 1882.9,946.6 1883.2,909.1 1883.5,1080.0 1883.5,779.5 1883.9,839.7 1884.2,761.8 1884.5,749.0 1884.9,749.7 1885.2,732.9 1885.5,756.8 1885.9,753.2 1886.2,865.4 1886.5,759.9 1886.9,717.7 1887.2,802.5 1887.5,748.9 1887.9,869.4 1888.2,752.4 1888.5,836.2 1888.9,744.7 1889.2,817.4 1889.5,930.4 1889.9,772.8 1890.2,828.6 1890.5,806.5 1890.9,723.9 1891.2,708.5 1891.5,919.5 1891.9,781.9 1892.2,867.9 1892.5,799.9 1892.9,917.3 1893.2,747.8 1893.5,817.5 1893.9,833.5 1894.2,899.2 1894.5,711.1 1894.9,787.3 1895.2,815.2 1895.5,843.3 1895.9,738.8 1896.2,832.1 1896.5,869.1 1896.9,878.9 1897.2,753.1 1897.5,806.5 1897.9,771.3 1898.2,793.4 1898.5,787.3 1898.9,972.9 1899.2,703.9 1899.5,974.0 1899.9,711.7 1900.2,724.8 1900.5,749.5 1900.9,768.4 1901.2,921.9 1901.5,915.8 1901.9,965.7 1902.2,793.7 1902.5,704.8 1902.9,852.2 1903.2,943.3 1903.5,730.4 1903.9,911.3 1904.2,689.8 1904.5,878.9 1904.9,819.4 1905.2,949.8 1905.5,929.6 1905.9,714.3 1906.2,820.6 1906.5,756.6 1906.9,806.0 1907.2,720.1 1907.5,786.2 1907.9,798.2 1908.2,690.1 1908.5,814.8 1908.9,942.0 1909.2,718.3 1909.5,975.1 1909.9,818.5 1910.2,748.9 1910.5,1010.3 1910.9,814.5 1911.2,805.3 1911.5,790.0 1911.9,934.0 1912.0,1050.0 1912.2,733.4 1912.5,748.6 1912.9,766.3 1913.2,717.4 1913.5,919.7 1913.9,818.4 1914.2,847.1 1914.5,937.5 1914.9,820.0 1915.2,764.3 1915.5,829.3 1915.9,821.4 1916.2,770.0 1916.5,752.8 1916.9,785.0 1917.2,881.5 1917.5,739.4 1917.9,1083.2 1918.2,753.5 1918.5,763.0 1918.9,730.2 1919.2,793.6 1919.5,788.4 1919.9,868.2 1920.2,946.2 1920.5,756.4 1920.9,907.9 1921.2,772.0 1921.5,797.4 1921.9,730.8 1922.2,944.5 1922.5,788.7 1922.9,873.5 1923.2,700.5 1923.5,872.6 1923.9,750.5 1924.2,808.9 1924.5,866.7 1924.9,739.0 1925.2,828.6 1925.5,919.3 1925.9,737.4 1926.2,813.1 1926.5,741.4 1926.9,733.3 1927.2,819.0 1927.5,810.2 1927.9,859.2 1928.2,928.7 1928.5,875.8 1928.9,778.7 1929.2,818.0 1929.5,867.3 1929.9,921.5 1930.2,869.7 1930.5,822.3 1930.9,730.5 1931.2,933.6 1931.5,764.3 1931.9,796.8 1932.2,941.8 1932.5,745.8 1932.9,962.3 1933.2,750.8 1933.5,719.7 1933.9,825.4 1934.2,904.5 1934.5,796.4 1934.9,924.0 1935.2,794.8 1935.5,912.7 1935.9,726.7 1936.2,765.4 1936.5,729.3 1936.9,884.7 1937.2,814.2 1937.5,862.7 1937.9,753.8 1938.2,883.4 1938.5,1086.1 1938.9,719.6 1939.2,775.0 1939.5,936.1 1939.9,928.7 1940.2,937.4 1940.5,751.1 1940.9,838.8 1941.2,722.1 1941.5,804.4 1941.9,842.2 1942.2,759.6 1942.5,802.2 1942.9,787.7 1943.2,722.5 1943.5,718.9 1943.9,899.1 1944.2,687.7 1944.5,1063.5 1944.9,954.7 1945.2,1069.1 1945.5,901.1 1945.9,688.2 1946.2,730.6 1946.5,775.8 1946.9,743.4 1947.2,718.5 1947.5,970.5 1947.9,965.6 1948.2,1138.0 1948.2,893.1 1948.5,759.0 1948.9,930.8 1949.2,916.2 1949.5,777.4 1949.9,734.2 1950.2,736.0 1950.5,799.5 1950.9,922.2 1951.2,723.5 1951.5,804.9 1951.9,785.6 1952.2,953.5 1952.5,739.8 1952.9,863.1 1953.2,777.6 1953.5,860.8 1953.9,918.2 1954.2,919.3 1954.5,928.9 1954.9,770.0 1955.2,765.7 1955.5,734.7 1955.9,760.5 1956.2,734.2 1956.5,901.0 1956.9,718.1 1957.2,747.1 1957.5,903.9 1957.9,893.9 1958.2,1047.6 1958.5,793.7 1958.9,718.3 1959.2,912.4 1959.5,768.9 1959.9,896.1 1960.2,710.6 1960.5,715.5 1960.9,848.6 1961.2,870.6 1961.5,839.4 1961.9,831.8 1962.2,848.4 1962.5,737.7 1962.9,724.2 1963.2,785.1 1963.5,835.8 1963.9,759.4 1964.2,745.6 1964.5,809.9 1964.9,800.5 1965.2,764.4 1965.5,984.2 1965.9,997.1 1966.0,1086.0 1966.2,719.3 1966.5,818.5 1966.9,756.5 1967.2,781.7 1967.5,713.5 1967.9,727.5 1968.2,715.1 1968.5,736.6 1968.9,861.7 1969.2,727.2 1969.5,951.5 1969.9,910.1 1970.2,764.6 1970.5,872.5 1970.9,1007.4 1971.2,734.7 1971.5,838.9 1971.9,814.8 1972.2,775.1 1972.5,769.4 1972.9,728.8 1973.2,861.1 1973.5,748.5 1973.9,803.8 1974.2,986.1 1974.5,784.8 1974.9,776.6 1975.2,989.8 1975.5,844.9 1975.9,841.6 1976.2,752.6 1976.5,859.6 1976.9,792.7 1977.2,834.7 1977.5,797.4 1977.9,727.7 1978.2,946.1 1978.5,872.6 1978.9,1021.4 1979.2,774.1 1979.5,767.7 1979.9,738.6 1980.2,773.9 1980.5,778.9 1980.9,746.4 1981.2,763.4 1981.5,770.9 1981.9,936.9 1982.2,809.8 1982.5,918.7 1982.9,720.3 1983.2,747.1 1983.5,1010.7 1983.9,720.4 1984.2,725.4 1984.5,828.2 1984.9,769.8 1985.2,748.0 1985.5,851.3 1985.9,851.4 1986.2,747.0 1986.5,833.5 1986.9,812.0 1987.2,931.7 1987.5,725.2 1987.9,755.4 1988.2,840.2 1988.5,715.1 1988.9,931.4 1989.2,1043.6 1989.5,779.7 1989.9,897.1 1990.2,759.3 1990.5,1070.0 1990.5,1003.0 1990.9,750.0 1991.2,697.6 1991.5,722.6 1991.9,811.9 1992.2,712.3 1992.5,1059.2 1992.9,855.8 1993.2,839.6 1993.5,854.2 1993.9,800.2 1994.2,946.2 1994.5,876.2 1994.9,802.7 1995.2,764.5 1995.5,733.6 1995.8,1152.0 1995.9,772.1 1996.2,781.8 1996.5,717.1 1996.9,970.2 1997.2,756.2 1997.5,829.8 1997.9,711.4 1998.2,832.6 1998.5,857.2 1998.9,713.2 1999.2,1025.6 1999.5,732.7 1999.8,1063.0 1999.9,755.4 2000.2,880.4 2000.5,774.5 2000.9,930.8 2001.2,747.9 2001.5,767.7 2001.9,868.1 2002.2,922.8 2002.5,932.0 2002.9,759.9 2003.2,824.5 2003.5,792.2 2003.9,862.9 2004.2,742.6 2004.5,912.5 2004.9,872.5 2005.2,729.5 2005.5,765.3 2005.9,771.3 2006.2,955.1 2006.5,803.6 2006.9,846.5 2007.2,955.4 2007.5,787.8 2007.9,964.3 2008.2,759.9 2008.5,676.5 2008.9,712.3 2009.2,866.9 2009.5,784.0 2009.9,909.9 2010.2,824.5 2010.5,865.2 2010.9,776.5 2011.2,839.0 2011.5,868.5 2011.9,783.1 2012.2,813.4 2012.5,913.1 2012.9,953.8 2013.2,776.2 2013.5,705.4 2013.9,912.6 2014.2,802.1 2014.5,993.2 2014.9,885.9 2015.2,781.2 2015.5,915.2 2015.9,828.9 2016.2,872.7 2016.5,927.9 2016.9,837.5 2017.2,963.5 2017.5,789.6 2017.9,784.4 2018.2,853.4 2018.5,791.4 2018.9,871.2 2019.2,824.8 2019.5,880.4 2019.9,906.8 2020.2,834.4 2020.5,944.3 2020.9,892.0 2021.2,917.1 2021.5,693.7 2021.9,692.4 2022.2,852.1 2022.5,773.1 2022.9,922.2 2023.2,788.6 2023.5,880.8 2023.9,750.6 2024.2,850.9 2024.5,936.1 2024.9,918.5 2025.2,782.3 2025.5,812.4 2025.9,826.4 2026.2,776.7 2026.5,813.1 2026.9,983.9 2027.2,924.2 2027.5,769.1 2027.9,865.2 2028.2,962.4 2028.5,781.6 2028.9,913.8 2029.2,897.2 2029.5,927.8 2029.9,720.0 2030.2,947.8 2030.5,1006.0 2030.9,750.2 2031.2,851.5 2031.5,720.8 2031.9,843.3 2032.2,870.6 2032.5,880.0 2032.9,915.1 2033.2,762.9 2033.5,725.6 2033.9,901.6 2034.2,1043.0 2034.2,702.2 2034.5,746.9 2034.9,747.7 2035.2,887.3 2035.5,800.4 2035.9,907.5 2036.2,858.2 2036.5,908.8 2036.9,890.1 2037.2,920.7 2037.5,756.9 2037.9,777.2 2038.2,847.1 2038.5,835.3 2038.9,886.4 2039.2,896.3 2039.5,763.6 2039.9,724.5 2040.2,875.1 2040.5,861.1 2040.9,755.9 2041.2,710.2 2041.5,698.9 2041.9,748.3 2042.2,754.6 2042.5,738.7 2042.9,707.6 2043.2,732.4 2043.5,773.6 2043.9,717.2 2044.2,738.1 2044.5,795.7 2044.9,906.6 2045.2,914.1 2045.5,786.9 2045.9,723.6 2046.2,752.1 2046.5,855.1 2046.9,787.0 2047.2,828.2 2047.5,870.3 2047.9,850.4 2048.2,908.7 2048.5,714.2 2048.9,758.2 2049.2,700.0 2049.5,814.7 2049.9,838.3 2050.2,746.9 2050.5,706.7 2050.9,799.7 2051.2,729.3 2051.3,1028.0 2051.5,733.6 2051.9,778.4 2052.2,950.6 2052.5,772.8 2052.9,860.8 2053.2,775.7 2053.5,783.8 2053.9,723.9 2054.2,731.1 2054.5,876.3 2054.9,789.4 2055.2,753.0 2055.5,1008.6 2055.9,911.3 2056.2,747.4 2056.5,790.0 2056.9,823.1 2057.2,727.0 2057.5,787.8 2057.9,751.8 2058.2,887.6 2058.5,712.7 2058.9,1021.8 2059.2,739.2 2059.5,763.0 2059.9,708.3 2060.2,928.1 2060.5,891.4 2060.9,705.2 2061.2,809.8 2061.5,774.9 2061.9,828.0 2062.2,760.2 2062.5,949.4 2062.9,729.9 2063.2,882.4 2063.5,740.9 2063.9,834.9 2064.2,779.4 2064.5,803.1 2064.9,801.5 2065.2,826.5 2065.5,697.5 2065.9,695.0 2066.2,953.8 2066.5,732.2 2066.9,757.2 2067.2,727.8 2067.5,826.9 2067.9,962.5 2068.2,766.1 2068.5,745.6 2068.9,751.9 2069.2,678.7 2069.5,695.4 2069.9,684.6 2070.2,743.3 2070.5,950.8 2070.9,703.9 2071.2,796.3 2071.5,713.7 2071.9,677.5 2072.2,865.0 2072.5,698.2 2072.9,699.3 2073.2,857.6 2073.5,718.2 2073.9,708.4 2074.2,896.1 2074.5,706.5 2074.9,857.0 2075.2,730.3 2075.5,791.3 2075.9,729.2 2076.2,734.8 2076.5,882.2 2076.9,871.1 2077.2,696.2 2077.5,821.5 2077.9,688.7 2078.2,719.0 2078.5,673.3 2078.9,798.3 2079.2,815.4 2079.5,818.7 2079.9,823.8 2080.2,734.8 2080.5,687.0 2080.9,642.2 2081.2,741.9 2081.5,860.9 2081.9,741.6 2082.2,778.4 2082.5,850.3 2082.9,831.1 2083.2,802.6 2083.5,768.2 2083.9,686.0 2084.2,800.7 2084.5,725.5 2084.9,777.7 2085.2,680.6 2085.5,727.9 2085.9,671.7 2086.2,725.9 2086.5,724.9 2086.9,669.4 2087.2,722.9 2087.5,721.9 2087.9,720.9 2088.2,685.0 2088.5,701.3 2088.9,680.3 2089.2,712.9 2089.5,710.0 2089.9,707.1 2090.2,704.2 2090.5,701.3 2090.9,698.3 2091.2,695.4 2091.5,692.5 2091.9,674.9 2092.2,686.7 2092.5,683.8 2092.9,680.9 2093.2,641.2 2093.5,675.1 2093.9,672.2 2094.2,661.0 2094.5,644.3 2094.9,627.6 2095.2,611.0 2095.5,594.3 2095.9,577.6 2096.2,568.7 2096.5,565.0 2096.9,561.2 2097.2,557.4 2097.5,553.7 2097.9,549.9 2098.2,546.1 2098.5,542.4 2098.9,538.6 2099.2,534.8 2099.5,531.1 2099.9,527.3 2100.2,523.5 2100.5,519.7 2100.9,524.4 2101.2,531.2 2101.5,538.0 2101.9,544.8 2102.2,551.5 2102.5,558.3 2102.9,565.1 2103.2,571.9 2103.5,578.7 2103.9,616.5 2104.2,649.6 2104.5,659.9 2104.9,692.4 2105.2,707.6 2105.5,663.7 2105.9,737.9 2106.2,666.2 2106.5,756.3 2106.9,674.7 2107.2,771.6 2107.5,719.7 2107.9,786.9 2108.2,678.4 2108.5,802.3 2108.9,679.3 2109.2,711.3 2109.5,752.1 2109.9,734.4 2110.2,761.4 2110.5,769.2 2110.9,670.2 2111.2,630.3 2111.5,782.5 2111.9,753.7 2112.2,745.8 2112.5,729.4 2112.9,831.3 2113.2,677.1 2113.5,833.3 2113.9,649.5 2114.2,792.5 2114.5,851.0 2114.9,646.3 2115.2,820.7 2115.5,669.6 2115.9,630.1 2116.2,720.4 2116.5,809.0 2116.9,672.6 2117.2,880.2 2117.5,603.6 2117.9,666.9 2118.2,693.5 2118.5,705.0 2118.9,681.4 2119.2,620.0 2119.5,655.2 2119.9,672.2 2120.2,813.4 2120.5,714.1 2120.9,831.4 2121.2,738.2 2121.5,705.4 2121.9,658.6 2122.2,670.8 2122.5,881.2 2122.9,747.5 2123.2,702.6 2123.5,673.5 2123.9,875.0 2124.2,831.1 2124.5,828.5 2124.9,860.2 2125.2,687.1 2125.5,841.4 2125.9,661.2 2126.2,821.5 2126.5,715.0 2126.9,821.3 2127.2,686.5 2127.5,726.5 2127.9,825.1 2128.2,902.6 2128.5,724.3 2128.9,681.7 2129.2,676.7 2129.5,827.4 2129.9,886.3 2130.2,659.1 2130.5,729.1 2130.9,685.8 2131.2,911.5 2131.5,682.8 2131.9,674.2 2132.2,858.9 2132.5,976.0 2132.9,860.7 2133.2,683.8 2133.5,753.2 2133.9,787.3 2134.2,890.0 2134.5,857.6 2134.9,679.7 2135.2,769.3 2135.5,864.1 2135.9,796.7 2136.2,833.5 2136.5,924.1 2136.9,934.0 2137.2,877.1 2137.5,806.9 2137.9,730.0 2138.2,698.7 2138.5,700.1 2138.9,828.2 2139.2,865.8 2139.5,883.2 2139.9,899.4 2140.2,727.6 2140.5,741.5 2140.9,706.7 2141.2,802.7 2141.5,911.9 2141.9,864.6 2142.2,773.1 2142.5,705.9 2142.9,882.6 2143.2,895.9 2143.5,868.2 2143.9,734.1 2144.2,762.4 2144.5,817.5 2144.9,904.6 2145.2,722.1 2145.5,772.4 2145.9,700.9 2146.2,687.5 2146.5,724.3 2146.9,878.9 2147.2,845.8 2147.5,790.8 2147.9,772.5 2148.2,732.5 2148.5,871.2 2148.9,794.4 2149.2,706.1 2149.5,833.1 2149.9,964.3 2150.2,706.3 2150.5,972.5 2150.9,709.1 2151.0,744.4" fill="none" stroke="#0072BD" stroke-width="4" stroke-linejoin="bevel"/><polyline points="318.0,843.0 318.0,352.0 319.5,583.0 324.0,596.0 328.0,603.4 333.0,608.0 337.5,607.0 340.7,608.0 343.5,614.0 337.0,618.0 328.0,616.5 336.0,620.5 347.0,622.0 354.0,628.6 361.0,634.2 368.0,639.0 375.0,646.0 382.0,654.5 385.0,659.7 390.6,674.6 396.2,688.6 399.9,702.6 402.2,721.2 403.6,739.9 404.6,746.4 406.0,740.0 407.4,721.2 408.3,693.2 409.1,665.3 409.7,637.3 410.4,600.0 411.2,540.0 412.9,427.0 413.7,329.0 414.5,427.0 417.2,500.0 418.8,535.0 420.5,561.0 422.6,578.5 425.4,592.5 431.0,606.5 438.0,617.0 445.0,624.0 455.5,629.6 466.0,632.4 480.0,632.4 490.5,630.3 501.0,625.4 511.5,617.7 522.0,606.5 532.5,592.5 539.5,578.5 546.6,565.0 554.0,541.0 560.1,512.0 564.3,484.0 567.8,456.0 570.6,428.0 572.7,400.0 575.9,342.7 578.0,290.0 579.3,250.0 580.0,210.0 581.2,156.0 582.0,117.7 582.8,156.0 584.0,210.0 584.8,250.0 586.0,290.0 588.0,342.7 590.0,380.0 592.4,420.0 596.4,458.5 600.3,484.0 604.1,509.8 610.5,535.4 618.2,561.1 628.5,584.2 641.3,602.1 656.7,620.1 667.0,620.1 682.4,624.0 695.2,624.0 711.9,618.2 724.7,611.1 737.5,600.9 750.3,586.8 761.9,572.6 773.4,554.7 781.2,538.0 786.8,524.0 791.7,510.0 795.9,496.0 799.4,482.0 802.9,468.0 805.5,458.0 807.0,450.0 809.6,431.0 813.1,413.6 815.7,396.2 818.4,378.7 821.0,352.4 823.6,326.2 825.7,300.0 827.8,266.5 829.7,224.5 832.0,180.0 833.9,139.4 835.5,180.0 836.7,224.5 839.1,266.5 841.3,300.0 843.7,326.0 846.3,352.4 849.0,378.7 850.5,390.0 857.0,435.5 866.0,480.0 873.9,509.7 885.8,539.5 895.7,559.3 905.6,579.1 911.5,600.9 917.5,598.9 925.4,608.8 929.4,610.8 939.3,628.6 957.1,654.4 965.0,652.4 976.9,655.4 988.8,657.4 1000.7,665.3 1006.7,667.3 1012.6,676.2 1028.4,685.1 1048.3,698.0 1062.1,705.9 1076.0,711.9 1080.0,723.8 1083.0,753.5 1087.9,749.5 1092.9,743.6 1095.6,763.0 1098.0,798.0 1100.5,784.0 1104.0,770.0 1109.6,770.0 1118.0,778.4 1125.0,786.0 1132.0,791.7 1137.6,784.0 1141.8,763.0 1146.0,741.0 1149.6,717.0 1153.1,693.0 1155.9,662.0 1159.5,618.0 1163.0,580.0 1164.9,560.0 1166.7,535.0 1168.4,500.0 1170.7,465.0 1172.0,440.0 1173.4,406.6 1176.2,372.8 1178.6,406.6 1179.8,440.0 1180.6,465.0 1183.9,500.0 1188.8,535.0 1193.5,560.0 1197.9,575.0 1201.7,586.0 1212.4,606.0 1228.5,627.0 1247.3,649.0 1260.7,657.0 1271.4,673.0 1279.5,673.0 1295.6,686.0 1311.7,705.0 1322.4,720.0 1327.8,718.5 1333.1,691.6 1343.9,721.0 1349.2,700.0 1358.6,721.0 1365.3,710.0 1381.4,692.0 1397.5,673.0 1421.7,635.0 1428.4,633.0 1433.0,616.3 1438.3,589.0 1444.4,608.7 1452.7,599.6 1464.9,584.4 1475.5,570.8 1486.1,557.1 1495.2,545.8 1501.3,546.5 1505.8,526.8 1513.4,516.2 1519.5,507.9 1528.6,485.9 1539.2,460.1 1549.8,432.8 1558.9,399.4 1566.5,372.1 1570.3,360.0 1575.0,349.4 1579.7,321.4 1583.0,285.0 1586.2,246.7 1590.9,172.0 1594.0,150.0 1596.3,131.0 1597.0,67.5 1597.7,131.0 1599.5,150.0 1601.1,172.0 1605.8,246.7 1609.0,285.0 1612.3,321.4 1616.0,349.4 1622.0,366.0 1629.3,380.0 1637.5,403.3 1644.5,424.3 1650.3,438.3 1658.5,454.6 1666.6,468.6 1677.1,480.3 1685.3,494.9 1692.3,495.5 1704.0,506.0 1719.1,516.4 1730.8,524.6 1748.3,533.9 1756.4,537.4 1765.8,544.4 1783.3,549.1 1800.8,553.8 1810.0,556.8 1824.5,560.7 1837.8,560.2 1843.4,562.4 1850.1,566.3 1859.0,556.8 1864.5,565.7 1872.3,570.2 1893.5,570.2 1904.6,566.3 1921.3,562.4 1934.7,556.8 1940.8,562.9 1950.3,553.5 1957.0,550.1 1969.2,540.7 1980.3,530.7 1993.7,519.0 2001.5,513.4 2005.9,511.2 2009.3,502.3 2013.7,497.8 2020.4,495.6 2024.9,486.7 2027.7,480.2 2031.4,472.5 2035.8,451.0 2044.5,430.0 2051.8,416.0 2059.1,414.0 2065.0,392.0 2072.2,357.0 2079.0,315.9 2082.9,294.0 2085.2,274.9 2088.2,251.5 2091.7,216.6 2094.6,181.6 2098.5,152.5 2101.0,110.5 2103.5,152.5 2105.1,181.6 2106.6,216.6 2108.0,251.5 2109.5,268.0 2110.9,274.9 2116.1,292.4 2118.8,299.2 2122.7,322.3 2126.2,351.5 2132.0,375.0 2140.8,401.0 2149.5,421.5 2151.0,424.0" fill="none" stroke="#D95319" stroke-width="6.5" stroke-linejoin="round"/><text x="318.0" y="1576" font-family="Liberation Serif, Times New Roman, serif" font-size="90" fill="#262626" text-anchor="middle">0</text><text x="725.0" y="1576" font-family="Liberation Serif, Times New Roman, serif" font-size="90" fill="#262626" text-anchor="middle">500</text><text x="1132.0" y="1576" font-family="Liberation Serif, Times New Roman, serif" font-size="90" fill="#262626" text-anchor="middle">1000</text><text x="1539.0" y="1576" font-family="Liberation Serif, Times New Roman, serif" font-size="90" fill="#262626" text-anchor="middle">1500</text><text x="1946.0" y="1576" font-family="Liberation Serif, Times New Roman, serif" font-size="90" fill="#262626" text-anchor="middle">2000</text><text x="251.3" y="115" font-family="Liberation Serif, Times New Roman, serif" font-size="90" fill="#262626" text-anchor="end">10</text><text x="249.1" y="73" font-family="Liberation Serif, Times New Roman, serif" font-size="75" fill="#262626">0</text><text x="225.3" y="1509.5" font-family="Liberation Serif, Times New Roman, serif" font-size="90" fill="#262626" text-anchor="end">10</text><text x="224" y="1467.5" font-family="Liberation Serif, Times New Roman, serif" font-size="75" fill="#262626">-5</text><text x="1238.2" y="1692" font-family="Liberation Serif, Times New Roman, serif" font-size="99" fill="#262626" text-anchor="middle">Frequency [Hz]</text><text x="0" y="0" transform="translate(99.5 761.4) rotate(-90)" font-family="Liberation Serif, Times New Roman, serif" font-size="99" fill="#262626" text-anchor="middle">Normalized amplitude</text><rect x="373" y="1201" width="645" height="206" fill="#fff" stroke="#262626" stroke-width="4"/><line x1="389" y1="1257" x2="517" y2="1257" stroke="#0072BD" stroke-width="4"/><line x1="389" y1="1352.5" x2="517" y2="1352.5" stroke="#D95319" stroke-width="7"/><text x="529" y="1286.3" font-family="Liberation Serif, Times New Roman, serif" font-size="81" fill="#000">DIC</text><text x="529" y="1381.7" font-family="Liberation Serif, Times New Roman, serif" font-size="81" fill="#000">Accelerometer</text></svg>
</body></html>
